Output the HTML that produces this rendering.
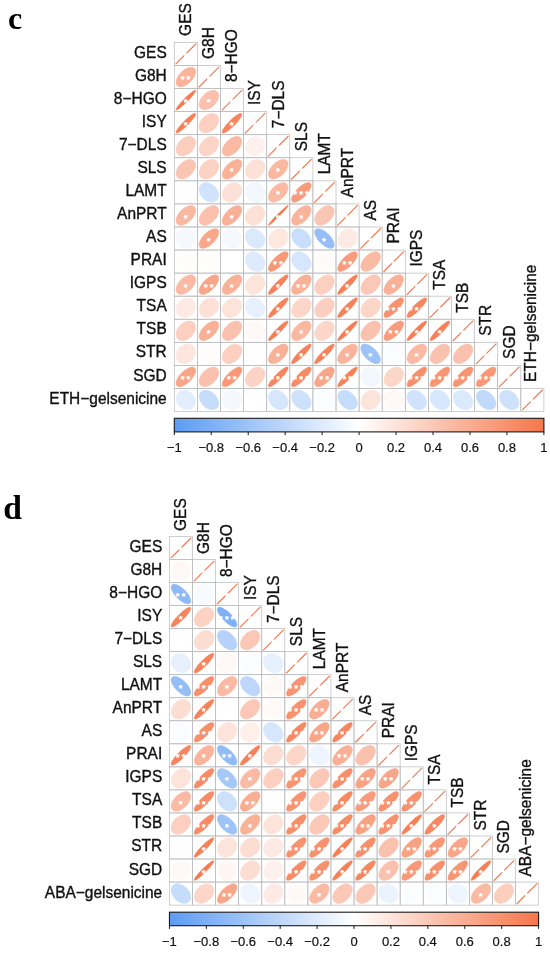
<!DOCTYPE html>
<html><head><meta charset="utf-8"><title>Correlation</title>
<style>
html,body{margin:0;padding:0;background:#fff;}
body{width:550px;height:953px;overflow:hidden;position:relative;font-family:"Liberation Sans",sans-serif;}
svg{position:absolute;left:0;top:0;display:block;}
.lb{font-family:"Liberation Sans",sans-serif;font-size:15.8px;fill:#111;stroke:#111;stroke-width:0.35px;}
.tk{font-family:"Liberation Sans",sans-serif;font-size:13px;fill:#111;stroke:#111;stroke-width:0.2px;}
.st{font-family:"Liberation Sans",sans-serif;font-weight:bold;font-size:9.6px;fill:#fff;stroke:#fff;stroke-width:0.25px;letter-spacing:2.15px;text-anchor:middle;}
.pl{font-family:"Liberation Serif",serif;font-weight:bold;font-size:32px;fill:#000;}
</style></head><body>
<svg width="550" height="953" viewBox="0 0 550 953">
<text class="pl" x="8" y="29">c</text>
<text class="pl" x="3.3" y="519" style="font-size:33.6px">d</text>
<line x1="175.63" y1="64.15" x2="196.07" y2="43.72" stroke="#f5764a" stroke-width="1.15"/>
<text class="st" x="186.60" y="59.04">***</text>
<ellipse cx="185.85" cy="77.00" rx="12.22" ry="6.59" fill="#fab49b" stroke="#fab49b" stroke-width="0.6" transform="rotate(-45 185.85 77.00)"/>
<text class="st" x="186.60" y="82.10">**</text>
<line x1="198.73" y1="87.22" x2="219.17" y2="66.79" stroke="#f5764a" stroke-width="1.15"/>
<text class="st" x="209.70" y="82.10">***</text>
<ellipse cx="185.85" cy="100.07" rx="13.74" ry="1.96" fill="#f57b51" stroke="#f57b51" stroke-width="0.6" transform="rotate(-45 185.85 100.07)"/>
<text class="st" x="186.60" y="105.17">*</text>
<ellipse cx="208.95" cy="100.07" rx="11.82" ry="7.28" fill="#fac1ae" stroke="#fac1ae" stroke-width="0.6" transform="rotate(-45 208.95 100.07)"/>
<text class="st" x="209.70" y="105.17">*</text>
<line x1="221.83" y1="110.29" x2="242.27" y2="89.86" stroke="#f5764a" stroke-width="1.15"/>
<text class="st" x="232.80" y="105.17">***</text>
<ellipse cx="185.85" cy="123.15" rx="13.66" ry="2.50" fill="#f67f56" stroke="#f67f56" stroke-width="0.6" transform="rotate(-45 185.85 123.15)"/>
<text class="st" x="186.60" y="128.25">*</text>
<ellipse cx="208.95" cy="123.15" rx="11.41" ry="7.92" fill="#fccfc0" stroke="#fccfc0" stroke-width="0.6" transform="rotate(-45 208.95 123.15)"/>
<ellipse cx="232.05" cy="123.15" rx="13.53" ry="3.10" fill="#f6845c" stroke="#f6845c" stroke-width="0.6" transform="rotate(-45 232.05 123.15)"/>
<text class="st" x="232.80" y="128.25">*</text>
<line x1="244.93" y1="133.36" x2="265.37" y2="112.93" stroke="#f5764a" stroke-width="1.15"/>
<text class="st" x="255.90" y="128.25">***</text>
<ellipse cx="185.85" cy="146.22" rx="11.45" ry="7.85" fill="#fbcebe" stroke="#fbcebe" stroke-width="0.6" transform="rotate(-45 185.85 146.22)"/>
<ellipse cx="208.95" cy="146.22" rx="11.24" ry="8.16" fill="#fcd5c7" stroke="#fcd5c7" stroke-width="0.6" transform="rotate(-45 208.95 146.22)"/>
<ellipse cx="232.05" cy="146.22" rx="12.02" ry="6.94" fill="#fabaa4" stroke="#fabaa4" stroke-width="0.6" transform="rotate(-45 232.05 146.22)"/>
<ellipse cx="255.15" cy="146.22" rx="10.30" ry="9.31" fill="#fef1ed" stroke="#fef1ed" stroke-width="0.6" transform="rotate(-45 255.15 146.22)"/>
<line x1="268.03" y1="156.43" x2="288.47" y2="136.00" stroke="#f5764a" stroke-width="1.15"/>
<text class="st" x="279.00" y="151.31">***</text>
<ellipse cx="185.85" cy="169.28" rx="11.70" ry="7.48" fill="#fbc5b3" stroke="#fbc5b3" stroke-width="0.6" transform="rotate(-45 185.85 169.28)"/>
<ellipse cx="208.95" cy="169.28" rx="11.32" ry="8.04" fill="#fcd2c3" stroke="#fcd2c3" stroke-width="0.6" transform="rotate(-45 208.95 169.28)"/>
<ellipse cx="232.05" cy="169.28" rx="12.30" ry="6.44" fill="#f9b198" stroke="#f9b198" stroke-width="0.6" transform="rotate(-45 232.05 169.28)"/>
<text class="st" x="232.80" y="174.38">*</text>
<ellipse cx="255.15" cy="169.28" rx="10.84" ry="8.67" fill="#fde1d7" stroke="#fde1d7" stroke-width="0.6" transform="rotate(-45 255.15 169.28)"/>
<ellipse cx="278.25" cy="169.28" rx="12.10" ry="6.80" fill="#fab8a1" stroke="#fab8a1" stroke-width="0.6" transform="rotate(-45 278.25 169.28)"/>
<text class="st" x="279.00" y="174.38">*</text>
<line x1="291.13" y1="179.50" x2="311.57" y2="159.07" stroke="#f5764a" stroke-width="1.15"/>
<text class="st" x="302.10" y="174.38">***</text>
<ellipse cx="208.95" cy="192.36" rx="8.33" ry="11.11" fill="#d1e3fc" stroke="#d1e3fc" stroke-width="0.6" transform="rotate(-45 208.95 192.36)"/>
<ellipse cx="232.05" cy="192.36" rx="10.84" ry="8.67" fill="#fde1d7" stroke="#fde1d7" stroke-width="0.6" transform="rotate(-45 232.05 192.36)"/>
<ellipse cx="255.15" cy="192.36" rx="9.42" ry="10.20" fill="#f2f7fe" stroke="#f2f7fe" stroke-width="0.6" transform="rotate(-45 255.15 192.36)"/>
<ellipse cx="278.25" cy="192.36" rx="12.02" ry="6.94" fill="#fabaa4" stroke="#fabaa4" stroke-width="0.6" transform="rotate(-45 278.25 192.36)"/>
<text class="st" x="279.00" y="197.46">*</text>
<ellipse cx="301.35" cy="192.36" rx="12.88" ry="5.19" fill="#f89c7d" stroke="#f89c7d" stroke-width="0.6" transform="rotate(-45 301.35 192.36)"/>
<text class="st" x="302.10" y="197.46">***</text>
<line x1="314.23" y1="202.57" x2="334.67" y2="182.14" stroke="#f5764a" stroke-width="1.15"/>
<text class="st" x="325.20" y="197.46">***</text>
<ellipse cx="185.85" cy="215.43" rx="12.10" ry="6.80" fill="#fab8a1" stroke="#fab8a1" stroke-width="0.6" transform="rotate(-45 185.85 215.43)"/>
<text class="st" x="186.60" y="220.53">*</text>
<ellipse cx="208.95" cy="215.43" rx="11.86" ry="7.21" fill="#fac0ac" stroke="#fac0ac" stroke-width="0.6" transform="rotate(-45 208.95 215.43)"/>
<ellipse cx="232.05" cy="215.43" rx="12.34" ry="6.36" fill="#f9b096" stroke="#f9b096" stroke-width="0.6" transform="rotate(-45 232.05 215.43)"/>
<text class="st" x="232.80" y="220.53">*</text>
<ellipse cx="255.15" cy="215.43" rx="10.84" ry="8.67" fill="#fde1d7" stroke="#fde1d7" stroke-width="0.6" transform="rotate(-45 255.15 215.43)"/>
<ellipse cx="278.25" cy="215.43" rx="13.83" ry="1.20" fill="#f5784d" stroke="#f5784d" stroke-width="0.6" transform="rotate(-45 278.25 215.43)"/>
<text class="st" x="279.00" y="220.53">*</text>
<ellipse cx="301.35" cy="215.43" rx="12.22" ry="6.59" fill="#fab49b" stroke="#fab49b" stroke-width="0.6" transform="rotate(-45 301.35 215.43)"/>
<text class="st" x="302.10" y="220.53">*</text>
<ellipse cx="324.45" cy="215.43" rx="11.70" ry="7.48" fill="#fbc5b3" stroke="#fbc5b3" stroke-width="0.6" transform="rotate(-45 324.45 215.43)"/>
<line x1="337.33" y1="225.64" x2="357.77" y2="205.21" stroke="#f5764a" stroke-width="1.15"/>
<text class="st" x="348.30" y="220.53">***</text>
<ellipse cx="185.85" cy="238.50" rx="9.52" ry="10.11" fill="#f5f9fe" stroke="#f5f9fe" stroke-width="0.6" transform="rotate(-45 185.85 238.50)"/>
<ellipse cx="208.95" cy="238.50" rx="12.57" ry="5.89" fill="#f9a78b" stroke="#f9a78b" stroke-width="0.6" transform="rotate(-45 208.95 238.50)"/>
<text class="st" x="209.70" y="243.59">*</text>
<ellipse cx="232.05" cy="238.50" rx="9.52" ry="10.11" fill="#f5f9fe" stroke="#f5f9fe" stroke-width="0.6" transform="rotate(-45 232.05 238.50)"/>
<ellipse cx="255.15" cy="238.50" rx="8.67" ry="10.84" fill="#dbe9fc" stroke="#dbe9fc" stroke-width="0.6" transform="rotate(-45 255.15 238.50)"/>
<ellipse cx="278.25" cy="238.50" rx="10.62" ry="8.94" fill="#fde8e0" stroke="#fde8e0" stroke-width="0.6" transform="rotate(-45 278.25 238.50)"/>
<ellipse cx="301.35" cy="238.50" rx="8.04" ry="11.32" fill="#c9defb" stroke="#c9defb" stroke-width="0.6" transform="rotate(-45 301.35 238.50)"/>
<ellipse cx="324.45" cy="238.50" rx="5.81" ry="12.61" fill="#95bef7" stroke="#95bef7" stroke-width="0.6" transform="rotate(-45 324.45 238.50)"/>
<text class="st" x="325.20" y="243.59">*</text>
<ellipse cx="347.55" cy="238.50" rx="10.53" ry="9.05" fill="#feeae4" stroke="#feeae4" stroke-width="0.6" transform="rotate(-45 347.55 238.50)"/>
<line x1="360.43" y1="248.71" x2="380.87" y2="228.28" stroke="#f5764a" stroke-width="1.15"/>
<text class="st" x="371.40" y="243.59">***</text>
<ellipse cx="185.85" cy="261.56" rx="9.87" ry="9.77" fill="#fffefd" stroke="#fffefd" stroke-width="0.6" transform="rotate(-45 185.85 261.56)"/>
<ellipse cx="208.95" cy="261.56" rx="9.87" ry="9.77" fill="#fffefd" stroke="#fffefd" stroke-width="0.6" transform="rotate(-45 208.95 261.56)"/>
<ellipse cx="255.15" cy="261.56" rx="8.78" ry="10.75" fill="#deebfd" stroke="#deebfd" stroke-width="0.6" transform="rotate(-45 255.15 261.56)"/>
<ellipse cx="278.25" cy="261.56" rx="12.99" ry="4.91" fill="#f89877" stroke="#f89877" stroke-width="0.6" transform="rotate(-45 278.25 261.56)"/>
<text class="st" x="279.00" y="266.67">**</text>
<ellipse cx="301.35" cy="261.56" rx="8.50" ry="10.98" fill="#d6e6fc" stroke="#d6e6fc" stroke-width="0.6" transform="rotate(-45 301.35 261.56)"/>
<ellipse cx="324.45" cy="261.56" rx="9.96" ry="9.67" fill="#fffbfa" stroke="#fffbfa" stroke-width="0.6" transform="rotate(-45 324.45 261.56)"/>
<ellipse cx="347.55" cy="261.56" rx="12.88" ry="5.19" fill="#f89c7d" stroke="#f89c7d" stroke-width="0.6" transform="rotate(-45 347.55 261.56)"/>
<text class="st" x="348.30" y="266.67">**</text>
<ellipse cx="370.65" cy="261.56" rx="12.02" ry="6.94" fill="#fabaa4" stroke="#fabaa4" stroke-width="0.6" transform="rotate(-45 370.65 261.56)"/>
<line x1="383.53" y1="271.78" x2="403.97" y2="251.35" stroke="#f5764a" stroke-width="1.15"/>
<text class="st" x="394.50" y="266.67">***</text>
<ellipse cx="185.85" cy="284.63" rx="12.02" ry="6.94" fill="#fabaa4" stroke="#fabaa4" stroke-width="0.6" transform="rotate(-45 185.85 284.63)"/>
<text class="st" x="186.60" y="289.74">*</text>
<ellipse cx="208.95" cy="284.63" rx="12.61" ry="5.81" fill="#f8a689" stroke="#f8a689" stroke-width="0.6" transform="rotate(-45 208.95 284.63)"/>
<text class="st" x="209.70" y="289.74">**</text>
<ellipse cx="232.05" cy="284.63" rx="12.30" ry="6.44" fill="#f9b198" stroke="#f9b198" stroke-width="0.6" transform="rotate(-45 232.05 284.63)"/>
<text class="st" x="232.80" y="289.74">*</text>
<ellipse cx="255.15" cy="284.63" rx="10.75" ry="8.78" fill="#fde4db" stroke="#fde4db" stroke-width="0.6" transform="rotate(-45 255.15 284.63)"/>
<ellipse cx="278.25" cy="284.63" rx="13.60" ry="2.78" fill="#f68158" stroke="#f68158" stroke-width="0.6" transform="rotate(-45 278.25 284.63)"/>
<text class="st" x="279.00" y="289.74">*</text>
<ellipse cx="301.35" cy="284.63" rx="12.30" ry="6.44" fill="#f9b198" stroke="#f9b198" stroke-width="0.6" transform="rotate(-45 301.35 284.63)"/>
<text class="st" x="302.10" y="289.74">**</text>
<ellipse cx="324.45" cy="284.63" rx="11.41" ry="7.92" fill="#fccfc0" stroke="#fccfc0" stroke-width="0.6" transform="rotate(-45 324.45 284.63)"/>
<ellipse cx="347.55" cy="284.63" rx="13.62" ry="2.69" fill="#f68058" stroke="#f68058" stroke-width="0.6" transform="rotate(-45 347.55 284.63)"/>
<text class="st" x="348.30" y="289.74">*</text>
<ellipse cx="370.65" cy="284.63" rx="11.62" ry="7.60" fill="#fbc8b7" stroke="#fbc8b7" stroke-width="0.6" transform="rotate(-45 370.65 284.63)"/>
<ellipse cx="393.75" cy="284.63" rx="12.30" ry="6.44" fill="#f9b198" stroke="#f9b198" stroke-width="0.6" transform="rotate(-45 393.75 284.63)"/>
<text class="st" x="394.50" y="289.74">*</text>
<line x1="406.63" y1="294.85" x2="427.07" y2="274.42" stroke="#f5764a" stroke-width="1.15"/>
<text class="st" x="417.60" y="289.74">***</text>
<ellipse cx="185.85" cy="307.71" rx="10.53" ry="9.05" fill="#feeae4" stroke="#feeae4" stroke-width="0.6" transform="rotate(-45 185.85 307.71)"/>
<ellipse cx="208.95" cy="307.71" rx="10.84" ry="8.67" fill="#fde1d7" stroke="#fde1d7" stroke-width="0.6" transform="rotate(-45 208.95 307.71)"/>
<ellipse cx="232.05" cy="307.71" rx="10.75" ry="8.78" fill="#fde4db" stroke="#fde4db" stroke-width="0.6" transform="rotate(-45 232.05 307.71)"/>
<ellipse cx="255.15" cy="307.71" rx="9.05" ry="10.53" fill="#e7f0fd" stroke="#e7f0fd" stroke-width="0.6" transform="rotate(-45 255.15 307.71)"/>
<ellipse cx="278.25" cy="307.71" rx="13.62" ry="2.69" fill="#f68058" stroke="#f68058" stroke-width="0.6" transform="rotate(-45 278.25 307.71)"/>
<text class="st" x="279.00" y="312.81">*</text>
<ellipse cx="301.35" cy="307.71" rx="11.19" ry="8.21" fill="#fcd6c9" stroke="#fcd6c9" stroke-width="0.6" transform="rotate(-45 301.35 307.71)"/>
<ellipse cx="324.45" cy="307.71" rx="11.41" ry="7.92" fill="#fccfc0" stroke="#fccfc0" stroke-width="0.6" transform="rotate(-45 324.45 307.71)"/>
<ellipse cx="347.55" cy="307.71" rx="13.59" ry="2.86" fill="#f68259" stroke="#f68259" stroke-width="0.6" transform="rotate(-45 347.55 307.71)"/>
<text class="st" x="348.30" y="312.81">*</text>
<ellipse cx="370.65" cy="307.71" rx="11.19" ry="8.21" fill="#fcd6c9" stroke="#fcd6c9" stroke-width="0.6" transform="rotate(-45 370.65 307.71)"/>
<ellipse cx="393.75" cy="307.71" rx="13.17" ry="4.39" fill="#f7916e" stroke="#f7916e" stroke-width="0.6" transform="rotate(-45 393.75 307.71)"/>
<text class="st" x="394.50" y="312.81">***</text>
<ellipse cx="416.85" cy="307.71" rx="13.46" ry="3.40" fill="#f68660" stroke="#f68660" stroke-width="0.6" transform="rotate(-45 416.85 307.71)"/>
<text class="st" x="417.60" y="312.81">***</text>
<line x1="429.73" y1="317.92" x2="450.17" y2="297.49" stroke="#f5764a" stroke-width="1.15"/>
<text class="st" x="440.70" y="312.81">***</text>
<ellipse cx="185.85" cy="330.78" rx="11.41" ry="7.92" fill="#fccfc0" stroke="#fccfc0" stroke-width="0.6" transform="rotate(-45 185.85 330.78)"/>
<ellipse cx="208.95" cy="330.78" rx="12.34" ry="6.36" fill="#f9b096" stroke="#f9b096" stroke-width="0.6" transform="rotate(-45 208.95 330.78)"/>
<text class="st" x="209.70" y="335.88">*</text>
<ellipse cx="232.05" cy="330.78" rx="11.82" ry="7.28" fill="#fac1ae" stroke="#fac1ae" stroke-width="0.6" transform="rotate(-45 232.05 330.78)"/>
<ellipse cx="255.15" cy="330.78" rx="10.06" ry="9.57" fill="#fef8f6" stroke="#fef8f6" stroke-width="0.6" transform="rotate(-45 255.15 330.78)"/>
<ellipse cx="278.25" cy="330.78" rx="13.69" ry="2.30" fill="#f67e54" stroke="#f67e54" stroke-width="0.6" transform="rotate(-45 278.25 330.78)"/>
<text class="st" x="279.00" y="335.88">*</text>
<ellipse cx="301.35" cy="330.78" rx="12.10" ry="6.80" fill="#fab8a1" stroke="#fab8a1" stroke-width="0.6" transform="rotate(-45 301.35 330.78)"/>
<text class="st" x="302.10" y="335.88">*</text>
<ellipse cx="324.45" cy="330.78" rx="11.19" ry="8.21" fill="#fcd6c9" stroke="#fcd6c9" stroke-width="0.6" transform="rotate(-45 324.45 330.78)"/>
<ellipse cx="347.55" cy="330.78" rx="13.69" ry="2.30" fill="#f67e54" stroke="#f67e54" stroke-width="0.6" transform="rotate(-45 347.55 330.78)"/>
<text class="st" x="348.30" y="335.88">*</text>
<ellipse cx="370.65" cy="330.78" rx="11.82" ry="7.28" fill="#fac1ae" stroke="#fac1ae" stroke-width="0.6" transform="rotate(-45 370.65 330.78)"/>
<ellipse cx="393.75" cy="330.78" rx="12.88" ry="5.19" fill="#f89c7d" stroke="#f89c7d" stroke-width="0.6" transform="rotate(-45 393.75 330.78)"/>
<text class="st" x="394.50" y="335.88">**</text>
<ellipse cx="416.85" cy="330.78" rx="13.69" ry="2.30" fill="#f67e54" stroke="#f67e54" stroke-width="0.6" transform="rotate(-45 416.85 330.78)"/>
<text class="st" x="417.60" y="335.88">*</text>
<ellipse cx="439.95" cy="330.78" rx="13.62" ry="2.69" fill="#f68058" stroke="#f68058" stroke-width="0.6" transform="rotate(-45 439.95 330.78)"/>
<text class="st" x="440.70" y="335.88">*</text>
<line x1="452.83" y1="340.99" x2="473.27" y2="320.56" stroke="#f5764a" stroke-width="1.15"/>
<text class="st" x="463.80" y="335.88">***</text>
<ellipse cx="185.85" cy="353.85" rx="10.66" ry="8.89" fill="#fde6de" stroke="#fde6de" stroke-width="0.6" transform="rotate(-45 185.85 353.85)"/>
<ellipse cx="208.95" cy="353.85" rx="9.92" ry="9.72" fill="#fffcfb" stroke="#fffcfb" stroke-width="0.6" transform="rotate(-45 208.95 353.85)"/>
<ellipse cx="232.05" cy="353.85" rx="11.41" ry="7.92" fill="#fccfc0" stroke="#fccfc0" stroke-width="0.6" transform="rotate(-45 232.05 353.85)"/>
<ellipse cx="278.25" cy="353.85" rx="12.30" ry="6.44" fill="#f9b198" stroke="#f9b198" stroke-width="0.6" transform="rotate(-45 278.25 353.85)"/>
<text class="st" x="279.00" y="358.95">*</text>
<ellipse cx="301.35" cy="353.85" rx="13.59" ry="2.86" fill="#f68259" stroke="#f68259" stroke-width="0.6" transform="rotate(-45 301.35 353.85)"/>
<text class="st" x="302.10" y="358.95">*</text>
<ellipse cx="324.45" cy="353.85" rx="13.59" ry="2.86" fill="#f68259" stroke="#f68259" stroke-width="0.6" transform="rotate(-45 324.45 353.85)"/>
<text class="st" x="325.20" y="358.95">*</text>
<ellipse cx="347.55" cy="353.85" rx="12.22" ry="6.59" fill="#fab49b" stroke="#fab49b" stroke-width="0.6" transform="rotate(-45 347.55 353.85)"/>
<text class="st" x="348.30" y="358.95">*</text>
<ellipse cx="370.65" cy="353.85" rx="6.21" ry="12.42" fill="#9dc3f8" stroke="#9dc3f8" stroke-width="0.6" transform="rotate(-45 370.65 353.85)"/>
<text class="st" x="371.40" y="358.95">*</text>
<ellipse cx="393.75" cy="353.85" rx="9.67" ry="9.96" fill="#fafcff" stroke="#fafcff" stroke-width="0.6" transform="rotate(-45 393.75 353.85)"/>
<ellipse cx="416.85" cy="353.85" rx="12.02" ry="6.94" fill="#fabaa4" stroke="#fabaa4" stroke-width="0.6" transform="rotate(-45 416.85 353.85)"/>
<text class="st" x="417.60" y="358.95">*</text>
<ellipse cx="439.95" cy="353.85" rx="11.82" ry="7.28" fill="#fac1ae" stroke="#fac1ae" stroke-width="0.6" transform="rotate(-45 439.95 353.85)"/>
<ellipse cx="463.05" cy="353.85" rx="11.82" ry="7.28" fill="#fac1ae" stroke="#fac1ae" stroke-width="0.6" transform="rotate(-45 463.05 353.85)"/>
<line x1="475.93" y1="364.06" x2="496.37" y2="343.63" stroke="#f5764a" stroke-width="1.15"/>
<text class="st" x="486.90" y="358.95">***</text>
<ellipse cx="185.85" cy="376.92" rx="12.61" ry="5.81" fill="#f8a689" stroke="#f8a689" stroke-width="0.6" transform="rotate(-45 185.85 376.92)"/>
<text class="st" x="186.60" y="382.02">**</text>
<ellipse cx="208.95" cy="376.92" rx="11.82" ry="7.28" fill="#fac1ae" stroke="#fac1ae" stroke-width="0.6" transform="rotate(-45 208.95 376.92)"/>
<ellipse cx="232.05" cy="376.92" rx="12.99" ry="4.91" fill="#f89877" stroke="#f89877" stroke-width="0.6" transform="rotate(-45 232.05 376.92)"/>
<text class="st" x="232.80" y="382.02">**</text>
<ellipse cx="255.15" cy="376.92" rx="11.28" ry="8.10" fill="#fcd3c5" stroke="#fcd3c5" stroke-width="0.6" transform="rotate(-45 255.15 376.92)"/>
<ellipse cx="278.25" cy="376.92" rx="13.53" ry="3.10" fill="#f6845c" stroke="#f6845c" stroke-width="0.6" transform="rotate(-45 278.25 376.92)"/>
<text class="st" x="279.00" y="382.02">***</text>
<ellipse cx="301.35" cy="376.92" rx="13.35" ry="3.80" fill="#f68b65" stroke="#f68b65" stroke-width="0.6" transform="rotate(-45 301.35 376.92)"/>
<text class="st" x="302.10" y="382.02">***</text>
<ellipse cx="324.45" cy="376.92" rx="12.61" ry="5.81" fill="#f8a689" stroke="#f8a689" stroke-width="0.6" transform="rotate(-45 324.45 376.92)"/>
<text class="st" x="325.20" y="382.02">**</text>
<ellipse cx="347.55" cy="376.92" rx="13.60" ry="2.78" fill="#f68158" stroke="#f68158" stroke-width="0.6" transform="rotate(-45 347.55 376.92)"/>
<text class="st" x="348.30" y="382.02">**</text>
<ellipse cx="370.65" cy="376.92" rx="9.42" ry="10.20" fill="#f2f7fe" stroke="#f2f7fe" stroke-width="0.6" transform="rotate(-45 370.65 376.92)"/>
<ellipse cx="393.75" cy="376.92" rx="11.19" ry="8.21" fill="#fcd6c9" stroke="#fcd6c9" stroke-width="0.6" transform="rotate(-45 393.75 376.92)"/>
<ellipse cx="416.85" cy="376.92" rx="13.24" ry="4.17" fill="#f78f6b" stroke="#f78f6b" stroke-width="0.6" transform="rotate(-45 416.85 376.92)"/>
<text class="st" x="417.60" y="382.02">***</text>
<ellipse cx="439.95" cy="376.92" rx="13.10" ry="4.60" fill="#f79472" stroke="#f79472" stroke-width="0.6" transform="rotate(-45 439.95 376.92)"/>
<text class="st" x="440.70" y="382.02">***</text>
<ellipse cx="463.05" cy="376.92" rx="13.10" ry="4.60" fill="#f79472" stroke="#f79472" stroke-width="0.6" transform="rotate(-45 463.05 376.92)"/>
<text class="st" x="463.80" y="382.02">***</text>
<ellipse cx="486.15" cy="376.92" rx="12.99" ry="4.91" fill="#f89877" stroke="#f89877" stroke-width="0.6" transform="rotate(-45 486.15 376.92)"/>
<text class="st" x="486.90" y="382.02">***</text>
<line x1="499.03" y1="387.13" x2="519.47" y2="366.70" stroke="#f5764a" stroke-width="1.15"/>
<text class="st" x="510.00" y="382.02">***</text>
<ellipse cx="185.85" cy="399.99" rx="8.89" ry="10.66" fill="#e2edfd" stroke="#e2edfd" stroke-width="0.6" transform="rotate(-45 185.85 399.99)"/>
<ellipse cx="208.95" cy="399.99" rx="7.92" ry="11.41" fill="#c6dcfb" stroke="#c6dcfb" stroke-width="0.6" transform="rotate(-45 208.95 399.99)"/>
<ellipse cx="232.05" cy="399.99" rx="9.47" ry="10.16" fill="#f4f8fe" stroke="#f4f8fe" stroke-width="0.6" transform="rotate(-45 232.05 399.99)"/>
<ellipse cx="278.25" cy="399.99" rx="8.50" ry="10.98" fill="#d6e6fc" stroke="#d6e6fc" stroke-width="0.6" transform="rotate(-45 278.25 399.99)"/>
<ellipse cx="301.35" cy="399.99" rx="8.21" ry="11.19" fill="#cee1fb" stroke="#cee1fb" stroke-width="0.6" transform="rotate(-45 301.35 399.99)"/>
<ellipse cx="324.45" cy="399.99" rx="9.67" ry="9.96" fill="#fafcff" stroke="#fafcff" stroke-width="0.6" transform="rotate(-45 324.45 399.99)"/>
<ellipse cx="347.55" cy="399.99" rx="7.92" ry="11.41" fill="#c6dcfb" stroke="#c6dcfb" stroke-width="0.6" transform="rotate(-45 347.55 399.99)"/>
<ellipse cx="370.65" cy="399.99" rx="10.75" ry="8.78" fill="#fde4db" stroke="#fde4db" stroke-width="0.6" transform="rotate(-45 370.65 399.99)"/>
<ellipse cx="393.75" cy="399.99" rx="10.06" ry="9.57" fill="#fef8f6" stroke="#fef8f6" stroke-width="0.6" transform="rotate(-45 393.75 399.99)"/>
<ellipse cx="416.85" cy="399.99" rx="8.33" ry="11.11" fill="#d1e3fc" stroke="#d1e3fc" stroke-width="0.6" transform="rotate(-45 416.85 399.99)"/>
<ellipse cx="439.95" cy="399.99" rx="8.50" ry="10.98" fill="#d6e6fc" stroke="#d6e6fc" stroke-width="0.6" transform="rotate(-45 439.95 399.99)"/>
<ellipse cx="463.05" cy="399.99" rx="8.67" ry="10.84" fill="#dbe9fc" stroke="#dbe9fc" stroke-width="0.6" transform="rotate(-45 463.05 399.99)"/>
<ellipse cx="486.15" cy="399.99" rx="7.73" ry="11.53" fill="#c1d9fa" stroke="#c1d9fa" stroke-width="0.6" transform="rotate(-45 486.15 399.99)"/>
<ellipse cx="509.25" cy="399.99" rx="8.21" ry="11.19" fill="#cee1fb" stroke="#cee1fb" stroke-width="0.6" transform="rotate(-45 509.25 399.99)"/>
<line x1="522.13" y1="410.20" x2="542.57" y2="389.77" stroke="#f5764a" stroke-width="1.15"/>
<text class="st" x="533.10" y="405.09">***</text>
<rect x="174.30" y="42.40" width="23.10" height="23.07" fill="none" stroke="#b8bbbe" stroke-width="0.7"/>
<rect x="174.30" y="65.47" width="23.10" height="23.07" fill="none" stroke="#b8bbbe" stroke-width="0.7"/>
<rect x="197.40" y="65.47" width="23.10" height="23.07" fill="none" stroke="#b8bbbe" stroke-width="0.7"/>
<rect x="174.30" y="88.54" width="23.10" height="23.07" fill="none" stroke="#b8bbbe" stroke-width="0.7"/>
<rect x="197.40" y="88.54" width="23.10" height="23.07" fill="none" stroke="#b8bbbe" stroke-width="0.7"/>
<rect x="220.50" y="88.54" width="23.10" height="23.07" fill="none" stroke="#b8bbbe" stroke-width="0.7"/>
<rect x="174.30" y="111.61" width="23.10" height="23.07" fill="none" stroke="#b8bbbe" stroke-width="0.7"/>
<rect x="197.40" y="111.61" width="23.10" height="23.07" fill="none" stroke="#b8bbbe" stroke-width="0.7"/>
<rect x="220.50" y="111.61" width="23.10" height="23.07" fill="none" stroke="#b8bbbe" stroke-width="0.7"/>
<rect x="243.60" y="111.61" width="23.10" height="23.07" fill="none" stroke="#b8bbbe" stroke-width="0.7"/>
<rect x="174.30" y="134.68" width="23.10" height="23.07" fill="none" stroke="#b8bbbe" stroke-width="0.7"/>
<rect x="197.40" y="134.68" width="23.10" height="23.07" fill="none" stroke="#b8bbbe" stroke-width="0.7"/>
<rect x="220.50" y="134.68" width="23.10" height="23.07" fill="none" stroke="#b8bbbe" stroke-width="0.7"/>
<rect x="243.60" y="134.68" width="23.10" height="23.07" fill="none" stroke="#b8bbbe" stroke-width="0.7"/>
<rect x="266.70" y="134.68" width="23.10" height="23.07" fill="none" stroke="#b8bbbe" stroke-width="0.7"/>
<rect x="174.30" y="157.75" width="23.10" height="23.07" fill="none" stroke="#b8bbbe" stroke-width="0.7"/>
<rect x="197.40" y="157.75" width="23.10" height="23.07" fill="none" stroke="#b8bbbe" stroke-width="0.7"/>
<rect x="220.50" y="157.75" width="23.10" height="23.07" fill="none" stroke="#b8bbbe" stroke-width="0.7"/>
<rect x="243.60" y="157.75" width="23.10" height="23.07" fill="none" stroke="#b8bbbe" stroke-width="0.7"/>
<rect x="266.70" y="157.75" width="23.10" height="23.07" fill="none" stroke="#b8bbbe" stroke-width="0.7"/>
<rect x="289.80" y="157.75" width="23.10" height="23.07" fill="none" stroke="#b8bbbe" stroke-width="0.7"/>
<rect x="174.30" y="180.82" width="23.10" height="23.07" fill="none" stroke="#b8bbbe" stroke-width="0.7"/>
<rect x="197.40" y="180.82" width="23.10" height="23.07" fill="none" stroke="#b8bbbe" stroke-width="0.7"/>
<rect x="220.50" y="180.82" width="23.10" height="23.07" fill="none" stroke="#b8bbbe" stroke-width="0.7"/>
<rect x="243.60" y="180.82" width="23.10" height="23.07" fill="none" stroke="#b8bbbe" stroke-width="0.7"/>
<rect x="266.70" y="180.82" width="23.10" height="23.07" fill="none" stroke="#b8bbbe" stroke-width="0.7"/>
<rect x="289.80" y="180.82" width="23.10" height="23.07" fill="none" stroke="#b8bbbe" stroke-width="0.7"/>
<rect x="312.90" y="180.82" width="23.10" height="23.07" fill="none" stroke="#b8bbbe" stroke-width="0.7"/>
<rect x="174.30" y="203.89" width="23.10" height="23.07" fill="none" stroke="#b8bbbe" stroke-width="0.7"/>
<rect x="197.40" y="203.89" width="23.10" height="23.07" fill="none" stroke="#b8bbbe" stroke-width="0.7"/>
<rect x="220.50" y="203.89" width="23.10" height="23.07" fill="none" stroke="#b8bbbe" stroke-width="0.7"/>
<rect x="243.60" y="203.89" width="23.10" height="23.07" fill="none" stroke="#b8bbbe" stroke-width="0.7"/>
<rect x="266.70" y="203.89" width="23.10" height="23.07" fill="none" stroke="#b8bbbe" stroke-width="0.7"/>
<rect x="289.80" y="203.89" width="23.10" height="23.07" fill="none" stroke="#b8bbbe" stroke-width="0.7"/>
<rect x="312.90" y="203.89" width="23.10" height="23.07" fill="none" stroke="#b8bbbe" stroke-width="0.7"/>
<rect x="336.00" y="203.89" width="23.10" height="23.07" fill="none" stroke="#b8bbbe" stroke-width="0.7"/>
<rect x="174.30" y="226.96" width="23.10" height="23.07" fill="none" stroke="#b8bbbe" stroke-width="0.7"/>
<rect x="197.40" y="226.96" width="23.10" height="23.07" fill="none" stroke="#b8bbbe" stroke-width="0.7"/>
<rect x="220.50" y="226.96" width="23.10" height="23.07" fill="none" stroke="#b8bbbe" stroke-width="0.7"/>
<rect x="243.60" y="226.96" width="23.10" height="23.07" fill="none" stroke="#b8bbbe" stroke-width="0.7"/>
<rect x="266.70" y="226.96" width="23.10" height="23.07" fill="none" stroke="#b8bbbe" stroke-width="0.7"/>
<rect x="289.80" y="226.96" width="23.10" height="23.07" fill="none" stroke="#b8bbbe" stroke-width="0.7"/>
<rect x="312.90" y="226.96" width="23.10" height="23.07" fill="none" stroke="#b8bbbe" stroke-width="0.7"/>
<rect x="336.00" y="226.96" width="23.10" height="23.07" fill="none" stroke="#b8bbbe" stroke-width="0.7"/>
<rect x="359.10" y="226.96" width="23.10" height="23.07" fill="none" stroke="#b8bbbe" stroke-width="0.7"/>
<rect x="174.30" y="250.03" width="23.10" height="23.07" fill="none" stroke="#b8bbbe" stroke-width="0.7"/>
<rect x="197.40" y="250.03" width="23.10" height="23.07" fill="none" stroke="#b8bbbe" stroke-width="0.7"/>
<rect x="220.50" y="250.03" width="23.10" height="23.07" fill="none" stroke="#b8bbbe" stroke-width="0.7"/>
<rect x="243.60" y="250.03" width="23.10" height="23.07" fill="none" stroke="#b8bbbe" stroke-width="0.7"/>
<rect x="266.70" y="250.03" width="23.10" height="23.07" fill="none" stroke="#b8bbbe" stroke-width="0.7"/>
<rect x="289.80" y="250.03" width="23.10" height="23.07" fill="none" stroke="#b8bbbe" stroke-width="0.7"/>
<rect x="312.90" y="250.03" width="23.10" height="23.07" fill="none" stroke="#b8bbbe" stroke-width="0.7"/>
<rect x="336.00" y="250.03" width="23.10" height="23.07" fill="none" stroke="#b8bbbe" stroke-width="0.7"/>
<rect x="359.10" y="250.03" width="23.10" height="23.07" fill="none" stroke="#b8bbbe" stroke-width="0.7"/>
<rect x="382.20" y="250.03" width="23.10" height="23.07" fill="none" stroke="#b8bbbe" stroke-width="0.7"/>
<rect x="174.30" y="273.10" width="23.10" height="23.07" fill="none" stroke="#b8bbbe" stroke-width="0.7"/>
<rect x="197.40" y="273.10" width="23.10" height="23.07" fill="none" stroke="#b8bbbe" stroke-width="0.7"/>
<rect x="220.50" y="273.10" width="23.10" height="23.07" fill="none" stroke="#b8bbbe" stroke-width="0.7"/>
<rect x="243.60" y="273.10" width="23.10" height="23.07" fill="none" stroke="#b8bbbe" stroke-width="0.7"/>
<rect x="266.70" y="273.10" width="23.10" height="23.07" fill="none" stroke="#b8bbbe" stroke-width="0.7"/>
<rect x="289.80" y="273.10" width="23.10" height="23.07" fill="none" stroke="#b8bbbe" stroke-width="0.7"/>
<rect x="312.90" y="273.10" width="23.10" height="23.07" fill="none" stroke="#b8bbbe" stroke-width="0.7"/>
<rect x="336.00" y="273.10" width="23.10" height="23.07" fill="none" stroke="#b8bbbe" stroke-width="0.7"/>
<rect x="359.10" y="273.10" width="23.10" height="23.07" fill="none" stroke="#b8bbbe" stroke-width="0.7"/>
<rect x="382.20" y="273.10" width="23.10" height="23.07" fill="none" stroke="#b8bbbe" stroke-width="0.7"/>
<rect x="405.30" y="273.10" width="23.10" height="23.07" fill="none" stroke="#b8bbbe" stroke-width="0.7"/>
<rect x="174.30" y="296.17" width="23.10" height="23.07" fill="none" stroke="#b8bbbe" stroke-width="0.7"/>
<rect x="197.40" y="296.17" width="23.10" height="23.07" fill="none" stroke="#b8bbbe" stroke-width="0.7"/>
<rect x="220.50" y="296.17" width="23.10" height="23.07" fill="none" stroke="#b8bbbe" stroke-width="0.7"/>
<rect x="243.60" y="296.17" width="23.10" height="23.07" fill="none" stroke="#b8bbbe" stroke-width="0.7"/>
<rect x="266.70" y="296.17" width="23.10" height="23.07" fill="none" stroke="#b8bbbe" stroke-width="0.7"/>
<rect x="289.80" y="296.17" width="23.10" height="23.07" fill="none" stroke="#b8bbbe" stroke-width="0.7"/>
<rect x="312.90" y="296.17" width="23.10" height="23.07" fill="none" stroke="#b8bbbe" stroke-width="0.7"/>
<rect x="336.00" y="296.17" width="23.10" height="23.07" fill="none" stroke="#b8bbbe" stroke-width="0.7"/>
<rect x="359.10" y="296.17" width="23.10" height="23.07" fill="none" stroke="#b8bbbe" stroke-width="0.7"/>
<rect x="382.20" y="296.17" width="23.10" height="23.07" fill="none" stroke="#b8bbbe" stroke-width="0.7"/>
<rect x="405.30" y="296.17" width="23.10" height="23.07" fill="none" stroke="#b8bbbe" stroke-width="0.7"/>
<rect x="428.40" y="296.17" width="23.10" height="23.07" fill="none" stroke="#b8bbbe" stroke-width="0.7"/>
<rect x="174.30" y="319.24" width="23.10" height="23.07" fill="none" stroke="#b8bbbe" stroke-width="0.7"/>
<rect x="197.40" y="319.24" width="23.10" height="23.07" fill="none" stroke="#b8bbbe" stroke-width="0.7"/>
<rect x="220.50" y="319.24" width="23.10" height="23.07" fill="none" stroke="#b8bbbe" stroke-width="0.7"/>
<rect x="243.60" y="319.24" width="23.10" height="23.07" fill="none" stroke="#b8bbbe" stroke-width="0.7"/>
<rect x="266.70" y="319.24" width="23.10" height="23.07" fill="none" stroke="#b8bbbe" stroke-width="0.7"/>
<rect x="289.80" y="319.24" width="23.10" height="23.07" fill="none" stroke="#b8bbbe" stroke-width="0.7"/>
<rect x="312.90" y="319.24" width="23.10" height="23.07" fill="none" stroke="#b8bbbe" stroke-width="0.7"/>
<rect x="336.00" y="319.24" width="23.10" height="23.07" fill="none" stroke="#b8bbbe" stroke-width="0.7"/>
<rect x="359.10" y="319.24" width="23.10" height="23.07" fill="none" stroke="#b8bbbe" stroke-width="0.7"/>
<rect x="382.20" y="319.24" width="23.10" height="23.07" fill="none" stroke="#b8bbbe" stroke-width="0.7"/>
<rect x="405.30" y="319.24" width="23.10" height="23.07" fill="none" stroke="#b8bbbe" stroke-width="0.7"/>
<rect x="428.40" y="319.24" width="23.10" height="23.07" fill="none" stroke="#b8bbbe" stroke-width="0.7"/>
<rect x="451.50" y="319.24" width="23.10" height="23.07" fill="none" stroke="#b8bbbe" stroke-width="0.7"/>
<rect x="174.30" y="342.31" width="23.10" height="23.07" fill="none" stroke="#b8bbbe" stroke-width="0.7"/>
<rect x="197.40" y="342.31" width="23.10" height="23.07" fill="none" stroke="#b8bbbe" stroke-width="0.7"/>
<rect x="220.50" y="342.31" width="23.10" height="23.07" fill="none" stroke="#b8bbbe" stroke-width="0.7"/>
<rect x="243.60" y="342.31" width="23.10" height="23.07" fill="none" stroke="#b8bbbe" stroke-width="0.7"/>
<rect x="266.70" y="342.31" width="23.10" height="23.07" fill="none" stroke="#b8bbbe" stroke-width="0.7"/>
<rect x="289.80" y="342.31" width="23.10" height="23.07" fill="none" stroke="#b8bbbe" stroke-width="0.7"/>
<rect x="312.90" y="342.31" width="23.10" height="23.07" fill="none" stroke="#b8bbbe" stroke-width="0.7"/>
<rect x="336.00" y="342.31" width="23.10" height="23.07" fill="none" stroke="#b8bbbe" stroke-width="0.7"/>
<rect x="359.10" y="342.31" width="23.10" height="23.07" fill="none" stroke="#b8bbbe" stroke-width="0.7"/>
<rect x="382.20" y="342.31" width="23.10" height="23.07" fill="none" stroke="#b8bbbe" stroke-width="0.7"/>
<rect x="405.30" y="342.31" width="23.10" height="23.07" fill="none" stroke="#b8bbbe" stroke-width="0.7"/>
<rect x="428.40" y="342.31" width="23.10" height="23.07" fill="none" stroke="#b8bbbe" stroke-width="0.7"/>
<rect x="451.50" y="342.31" width="23.10" height="23.07" fill="none" stroke="#b8bbbe" stroke-width="0.7"/>
<rect x="474.60" y="342.31" width="23.10" height="23.07" fill="none" stroke="#b8bbbe" stroke-width="0.7"/>
<rect x="174.30" y="365.38" width="23.10" height="23.07" fill="none" stroke="#b8bbbe" stroke-width="0.7"/>
<rect x="197.40" y="365.38" width="23.10" height="23.07" fill="none" stroke="#b8bbbe" stroke-width="0.7"/>
<rect x="220.50" y="365.38" width="23.10" height="23.07" fill="none" stroke="#b8bbbe" stroke-width="0.7"/>
<rect x="243.60" y="365.38" width="23.10" height="23.07" fill="none" stroke="#b8bbbe" stroke-width="0.7"/>
<rect x="266.70" y="365.38" width="23.10" height="23.07" fill="none" stroke="#b8bbbe" stroke-width="0.7"/>
<rect x="289.80" y="365.38" width="23.10" height="23.07" fill="none" stroke="#b8bbbe" stroke-width="0.7"/>
<rect x="312.90" y="365.38" width="23.10" height="23.07" fill="none" stroke="#b8bbbe" stroke-width="0.7"/>
<rect x="336.00" y="365.38" width="23.10" height="23.07" fill="none" stroke="#b8bbbe" stroke-width="0.7"/>
<rect x="359.10" y="365.38" width="23.10" height="23.07" fill="none" stroke="#b8bbbe" stroke-width="0.7"/>
<rect x="382.20" y="365.38" width="23.10" height="23.07" fill="none" stroke="#b8bbbe" stroke-width="0.7"/>
<rect x="405.30" y="365.38" width="23.10" height="23.07" fill="none" stroke="#b8bbbe" stroke-width="0.7"/>
<rect x="428.40" y="365.38" width="23.10" height="23.07" fill="none" stroke="#b8bbbe" stroke-width="0.7"/>
<rect x="451.50" y="365.38" width="23.10" height="23.07" fill="none" stroke="#b8bbbe" stroke-width="0.7"/>
<rect x="474.60" y="365.38" width="23.10" height="23.07" fill="none" stroke="#b8bbbe" stroke-width="0.7"/>
<rect x="497.70" y="365.38" width="23.10" height="23.07" fill="none" stroke="#b8bbbe" stroke-width="0.7"/>
<rect x="174.30" y="388.45" width="23.10" height="23.07" fill="none" stroke="#b8bbbe" stroke-width="0.7"/>
<rect x="197.40" y="388.45" width="23.10" height="23.07" fill="none" stroke="#b8bbbe" stroke-width="0.7"/>
<rect x="220.50" y="388.45" width="23.10" height="23.07" fill="none" stroke="#b8bbbe" stroke-width="0.7"/>
<rect x="243.60" y="388.45" width="23.10" height="23.07" fill="none" stroke="#b8bbbe" stroke-width="0.7"/>
<rect x="266.70" y="388.45" width="23.10" height="23.07" fill="none" stroke="#b8bbbe" stroke-width="0.7"/>
<rect x="289.80" y="388.45" width="23.10" height="23.07" fill="none" stroke="#b8bbbe" stroke-width="0.7"/>
<rect x="312.90" y="388.45" width="23.10" height="23.07" fill="none" stroke="#b8bbbe" stroke-width="0.7"/>
<rect x="336.00" y="388.45" width="23.10" height="23.07" fill="none" stroke="#b8bbbe" stroke-width="0.7"/>
<rect x="359.10" y="388.45" width="23.10" height="23.07" fill="none" stroke="#b8bbbe" stroke-width="0.7"/>
<rect x="382.20" y="388.45" width="23.10" height="23.07" fill="none" stroke="#b8bbbe" stroke-width="0.7"/>
<rect x="405.30" y="388.45" width="23.10" height="23.07" fill="none" stroke="#b8bbbe" stroke-width="0.7"/>
<rect x="428.40" y="388.45" width="23.10" height="23.07" fill="none" stroke="#b8bbbe" stroke-width="0.7"/>
<rect x="451.50" y="388.45" width="23.10" height="23.07" fill="none" stroke="#b8bbbe" stroke-width="0.7"/>
<rect x="474.60" y="388.45" width="23.10" height="23.07" fill="none" stroke="#b8bbbe" stroke-width="0.7"/>
<rect x="497.70" y="388.45" width="23.10" height="23.07" fill="none" stroke="#b8bbbe" stroke-width="0.7"/>
<rect x="520.80" y="388.45" width="23.10" height="23.07" fill="none" stroke="#b8bbbe" stroke-width="0.7"/>
<text class="lb" text-anchor="end" transform="translate(166.70 57.54) scale(0.98 1)">GES</text>
<text class="lb" transform="translate(191.15 35.90) rotate(-90) scale(0.98 1)">GES</text>
<text class="lb" text-anchor="end" transform="translate(166.70 80.60) scale(0.98 1)">G8H</text>
<text class="lb" transform="translate(214.25 58.97) rotate(-90) scale(0.98 1)">G8H</text>
<text class="lb" text-anchor="end" transform="translate(166.70 103.67) scale(0.98 1)">8−HGO</text>
<text class="lb" transform="translate(237.35 82.04) rotate(-90) scale(0.98 1)">8−HGO</text>
<text class="lb" text-anchor="end" transform="translate(166.70 126.75) scale(0.98 1)">ISY</text>
<text class="lb" transform="translate(260.45 105.11) rotate(-90) scale(0.98 1)">ISY</text>
<text class="lb" text-anchor="end" transform="translate(166.70 149.81) scale(0.98 1)">7−DLS</text>
<text class="lb" transform="translate(283.55 128.18) rotate(-90) scale(0.98 1)">7−DLS</text>
<text class="lb" text-anchor="end" transform="translate(166.70 172.88) scale(0.98 1)">SLS</text>
<text class="lb" transform="translate(306.65 151.25) rotate(-90) scale(0.98 1)">SLS</text>
<text class="lb" text-anchor="end" transform="translate(166.70 195.96) scale(0.98 1)">LAMT</text>
<text class="lb" transform="translate(329.75 174.32) rotate(-90) scale(0.98 1)">LAMT</text>
<text class="lb" text-anchor="end" transform="translate(166.70 219.03) scale(0.98 1)">AnPRT</text>
<text class="lb" transform="translate(352.85 197.39) rotate(-90) scale(0.98 1)">AnPRT</text>
<text class="lb" text-anchor="end" transform="translate(166.70 242.09) scale(0.98 1)">AS</text>
<text class="lb" transform="translate(375.95 220.46) rotate(-90) scale(0.98 1)">AS</text>
<text class="lb" text-anchor="end" transform="translate(166.70 265.17) scale(0.98 1)">PRAI</text>
<text class="lb" transform="translate(399.05 243.53) rotate(-90) scale(0.98 1)">PRAI</text>
<text class="lb" text-anchor="end" transform="translate(166.70 288.24) scale(0.98 1)">IGPS</text>
<text class="lb" transform="translate(422.15 266.60) rotate(-90) scale(0.98 1)">IGPS</text>
<text class="lb" text-anchor="end" transform="translate(166.70 311.31) scale(0.98 1)">TSA</text>
<text class="lb" transform="translate(445.25 289.67) rotate(-90) scale(0.98 1)">TSA</text>
<text class="lb" text-anchor="end" transform="translate(166.70 334.38) scale(0.98 1)">TSB</text>
<text class="lb" transform="translate(468.35 312.74) rotate(-90) scale(0.98 1)">TSB</text>
<text class="lb" text-anchor="end" transform="translate(166.70 357.45) scale(0.98 1)">STR</text>
<text class="lb" transform="translate(491.45 335.81) rotate(-90) scale(0.98 1)">STR</text>
<text class="lb" text-anchor="end" transform="translate(166.70 380.52) scale(0.98 1)">SGD</text>
<text class="lb" transform="translate(514.55 358.88) rotate(-90) scale(0.98 1)">SGD</text>
<text class="lb" text-anchor="end" transform="translate(166.70 403.59) scale(0.98 1)">ETH−gelsenicine</text>
<text class="lb" transform="translate(535.85 381.95) rotate(-90) scale(0.98 1)">ETH−gelsenicine</text>
<defs><linearGradient id="g42" x1="0" x2="1" y1="0" y2="0"><stop offset="0" stop-color="#5c9bf3"/><stop offset="0.5" stop-color="#ffffff"/><stop offset="1" stop-color="#f5764a"/></linearGradient></defs>
<rect x="174.30" y="418.30" width="369.60" height="13.60" fill="url(#g42)" stroke="#1a1a1a" stroke-width="1.1"/>
<line x1="174.30" y1="431.90" x2="174.30" y2="435.10" stroke="#1a1a1a" stroke-width="1"/>
<text class="tk" text-anchor="middle" x="174.30" y="451.70">−1</text>
<line x1="211.26" y1="431.90" x2="211.26" y2="435.10" stroke="#1a1a1a" stroke-width="1"/>
<text class="tk" text-anchor="middle" x="211.26" y="451.70">−0.8</text>
<line x1="248.22" y1="431.90" x2="248.22" y2="435.10" stroke="#1a1a1a" stroke-width="1"/>
<text class="tk" text-anchor="middle" x="248.22" y="451.70">−0.6</text>
<line x1="285.18" y1="431.90" x2="285.18" y2="435.10" stroke="#1a1a1a" stroke-width="1"/>
<text class="tk" text-anchor="middle" x="285.18" y="451.70">−0.4</text>
<line x1="322.14" y1="431.90" x2="322.14" y2="435.10" stroke="#1a1a1a" stroke-width="1"/>
<text class="tk" text-anchor="middle" x="322.14" y="451.70">−0.2</text>
<line x1="359.10" y1="431.90" x2="359.10" y2="435.10" stroke="#1a1a1a" stroke-width="1"/>
<text class="tk" text-anchor="middle" x="359.10" y="451.70">0</text>
<line x1="396.06" y1="431.90" x2="396.06" y2="435.10" stroke="#1a1a1a" stroke-width="1"/>
<text class="tk" text-anchor="middle" x="396.06" y="451.70">0.2</text>
<line x1="433.02" y1="431.90" x2="433.02" y2="435.10" stroke="#1a1a1a" stroke-width="1"/>
<text class="tk" text-anchor="middle" x="433.02" y="451.70">0.4</text>
<line x1="469.98" y1="431.90" x2="469.98" y2="435.10" stroke="#1a1a1a" stroke-width="1"/>
<text class="tk" text-anchor="middle" x="469.98" y="451.70">0.6</text>
<line x1="506.94" y1="431.90" x2="506.94" y2="435.10" stroke="#1a1a1a" stroke-width="1"/>
<text class="tk" text-anchor="middle" x="506.94" y="451.70">0.8</text>
<line x1="543.90" y1="431.90" x2="543.90" y2="435.10" stroke="#1a1a1a" stroke-width="1"/>
<text class="tk" text-anchor="middle" x="543.90" y="451.70">1</text>
<line x1="170.78" y1="558.17" x2="191.19" y2="537.77" stroke="#f5764a" stroke-width="1.15"/>
<text class="st" x="181.73" y="553.07">***</text>
<ellipse cx="180.98" cy="571.01" rx="10.05" ry="9.56" fill="#fef8f6" stroke="#fef8f6" stroke-width="0.6" transform="rotate(-45 180.98 571.01)"/>
<line x1="193.85" y1="581.21" x2="214.26" y2="560.81" stroke="#f5764a" stroke-width="1.15"/>
<text class="st" x="204.80" y="576.11">***</text>
<ellipse cx="180.98" cy="594.05" rx="5.37" ry="12.78" fill="#8db9f7" stroke="#8db9f7" stroke-width="0.6" transform="rotate(-45 180.98 594.05)"/>
<text class="st" x="181.73" y="599.15">**</text>
<ellipse cx="204.05" cy="594.05" rx="9.56" ry="10.05" fill="#f7fafe" stroke="#f7fafe" stroke-width="0.6" transform="rotate(-45 204.05 594.05)"/>
<line x1="216.92" y1="604.25" x2="237.33" y2="583.85" stroke="#f5764a" stroke-width="1.15"/>
<text class="st" x="227.87" y="599.15">***</text>
<ellipse cx="180.98" cy="617.09" rx="13.51" ry="3.10" fill="#f6845c" stroke="#f6845c" stroke-width="0.6" transform="rotate(-45 180.98 617.09)"/>
<text class="st" x="181.73" y="622.19">*</text>
<ellipse cx="204.05" cy="617.09" rx="11.31" ry="8.03" fill="#fcd2c3" stroke="#fcd2c3" stroke-width="0.6" transform="rotate(-45 204.05 617.09)"/>
<ellipse cx="227.12" cy="617.09" rx="4.60" ry="13.08" fill="#80b1f6" stroke="#80b1f6" stroke-width="0.6" transform="rotate(-45 227.12 617.09)"/>
<text class="st" x="227.87" y="622.19">***</text>
<line x1="239.99" y1="627.29" x2="260.40" y2="606.89" stroke="#f5764a" stroke-width="1.15"/>
<text class="st" x="250.94" y="622.19">***</text>
<ellipse cx="204.05" cy="640.13" rx="10.96" ry="8.49" fill="#fcddd2" stroke="#fcddd2" stroke-width="0.6" transform="rotate(-45 204.05 640.13)"/>
<ellipse cx="227.12" cy="640.13" rx="7.27" ry="11.81" fill="#b6d2fa" stroke="#b6d2fa" stroke-width="0.6" transform="rotate(-45 227.12 640.13)"/>
<ellipse cx="250.19" cy="640.13" rx="11.60" ry="7.59" fill="#fbc8b7" stroke="#fbc8b7" stroke-width="0.6" transform="rotate(-45 250.19 640.13)"/>
<line x1="263.06" y1="650.33" x2="283.47" y2="629.93" stroke="#f5764a" stroke-width="1.15"/>
<text class="st" x="274.02" y="645.23">***</text>
<ellipse cx="180.98" cy="663.17" rx="9.04" ry="10.51" fill="#e7f0fd" stroke="#e7f0fd" stroke-width="0.6" transform="rotate(-45 180.98 663.17)"/>
<ellipse cx="204.05" cy="663.17" rx="13.51" ry="3.10" fill="#f6845c" stroke="#f6845c" stroke-width="0.6" transform="rotate(-45 204.05 663.17)"/>
<text class="st" x="204.80" y="668.27">*</text>
<ellipse cx="227.12" cy="663.17" rx="10.05" ry="9.56" fill="#fef8f6" stroke="#fef8f6" stroke-width="0.6" transform="rotate(-45 227.12 663.17)"/>
<ellipse cx="250.19" cy="663.17" rx="9.66" ry="9.95" fill="#fafcff" stroke="#fafcff" stroke-width="0.6" transform="rotate(-45 250.19 663.17)"/>
<ellipse cx="273.27" cy="663.17" rx="9.04" ry="10.51" fill="#e7f0fd" stroke="#e7f0fd" stroke-width="0.6" transform="rotate(-45 273.27 663.17)"/>
<line x1="286.13" y1="673.37" x2="306.54" y2="652.97" stroke="#f5764a" stroke-width="1.15"/>
<text class="st" x="297.08" y="668.27">***</text>
<ellipse cx="180.98" cy="686.21" rx="5.80" ry="12.59" fill="#95bef7" stroke="#95bef7" stroke-width="0.6" transform="rotate(-45 180.98 686.21)"/>
<text class="st" x="181.73" y="691.31">*</text>
<ellipse cx="204.05" cy="686.21" rx="13.23" ry="4.16" fill="#f78f6b" stroke="#f78f6b" stroke-width="0.6" transform="rotate(-45 204.05 686.21)"/>
<text class="st" x="204.80" y="691.31">***</text>
<ellipse cx="227.12" cy="686.21" rx="12.01" ry="6.93" fill="#fabaa4" stroke="#fabaa4" stroke-width="0.6" transform="rotate(-45 227.12 686.21)"/>
<text class="st" x="227.87" y="691.31">*</text>
<ellipse cx="250.19" cy="686.21" rx="7.59" ry="11.60" fill="#bed7fa" stroke="#bed7fa" stroke-width="0.6" transform="rotate(-45 250.19 686.21)"/>
<ellipse cx="273.27" cy="686.21" rx="10.05" ry="9.56" fill="#fef8f6" stroke="#fef8f6" stroke-width="0.6" transform="rotate(-45 273.27 686.21)"/>
<ellipse cx="296.33" cy="686.21" rx="13.08" ry="4.60" fill="#f79472" stroke="#f79472" stroke-width="0.6" transform="rotate(-45 296.33 686.21)"/>
<text class="st" x="297.08" y="691.31">***</text>
<line x1="309.20" y1="696.41" x2="329.61" y2="676.01" stroke="#f5764a" stroke-width="1.15"/>
<text class="st" x="320.16" y="691.31">***</text>
<ellipse cx="180.98" cy="709.25" rx="10.96" ry="8.49" fill="#fcddd2" stroke="#fcddd2" stroke-width="0.6" transform="rotate(-45 180.98 709.25)"/>
<ellipse cx="204.05" cy="709.25" rx="13.57" ry="2.86" fill="#f68259" stroke="#f68259" stroke-width="0.6" transform="rotate(-45 204.05 709.25)"/>
<text class="st" x="204.80" y="714.35">*</text>
<ellipse cx="250.19" cy="709.25" rx="11.60" ry="7.59" fill="#fbc8b7" stroke="#fbc8b7" stroke-width="0.6" transform="rotate(-45 250.19 709.25)"/>
<ellipse cx="273.27" cy="709.25" rx="10.00" ry="9.61" fill="#fffaf8" stroke="#fffaf8" stroke-width="0.6" transform="rotate(-45 273.27 709.25)"/>
<ellipse cx="296.33" cy="709.25" rx="13.15" ry="4.38" fill="#f7916e" stroke="#f7916e" stroke-width="0.6" transform="rotate(-45 296.33 709.25)"/>
<text class="st" x="297.08" y="714.35">***</text>
<ellipse cx="319.41" cy="709.25" rx="12.40" ry="6.20" fill="#f9ad92" stroke="#f9ad92" stroke-width="0.6" transform="rotate(-45 319.41 709.25)"/>
<text class="st" x="320.16" y="714.35">**</text>
<line x1="332.27" y1="719.45" x2="352.68" y2="699.05" stroke="#f5764a" stroke-width="1.15"/>
<text class="st" x="343.23" y="714.35">***</text>
<ellipse cx="180.98" cy="732.29" rx="9.66" ry="9.95" fill="#fafcff" stroke="#fafcff" stroke-width="0.6" transform="rotate(-45 180.98 732.29)"/>
<ellipse cx="204.05" cy="732.29" rx="13.23" ry="4.16" fill="#f78f6b" stroke="#f78f6b" stroke-width="0.6" transform="rotate(-45 204.05 732.29)"/>
<text class="st" x="204.80" y="737.39">***</text>
<ellipse cx="227.12" cy="732.29" rx="10.74" ry="8.77" fill="#fde4db" stroke="#fde4db" stroke-width="0.6" transform="rotate(-45 227.12 732.29)"/>
<ellipse cx="250.19" cy="732.29" rx="10.38" ry="9.20" fill="#feefe9" stroke="#feefe9" stroke-width="0.6" transform="rotate(-45 250.19 732.29)"/>
<ellipse cx="273.27" cy="732.29" rx="8.49" ry="10.96" fill="#d6e6fc" stroke="#d6e6fc" stroke-width="0.6" transform="rotate(-45 273.27 732.29)"/>
<ellipse cx="296.33" cy="732.29" rx="13.41" ry="3.54" fill="#f68862" stroke="#f68862" stroke-width="0.6" transform="rotate(-45 296.33 732.29)"/>
<text class="st" x="297.08" y="737.39">***</text>
<ellipse cx="319.41" cy="732.29" rx="12.59" ry="5.80" fill="#f8a689" stroke="#f8a689" stroke-width="0.6" transform="rotate(-45 319.41 732.29)"/>
<text class="st" x="320.16" y="737.39">**</text>
<ellipse cx="342.48" cy="732.29" rx="13.44" ry="3.40" fill="#f68660" stroke="#f68660" stroke-width="0.6" transform="rotate(-45 342.48 732.29)"/>
<text class="st" x="343.23" y="737.39">***</text>
<line x1="355.34" y1="742.49" x2="375.75" y2="722.09" stroke="#f5764a" stroke-width="1.15"/>
<text class="st" x="366.30" y="737.39">***</text>
<ellipse cx="180.98" cy="755.33" rx="13.44" ry="3.40" fill="#f68660" stroke="#f68660" stroke-width="0.6" transform="rotate(-45 180.98 755.33)"/>
<text class="st" x="181.73" y="760.43">**</text>
<ellipse cx="204.05" cy="755.33" rx="12.21" ry="6.58" fill="#fab49b" stroke="#fab49b" stroke-width="0.6" transform="rotate(-45 204.05 755.33)"/>
<text class="st" x="204.80" y="760.43">*</text>
<ellipse cx="227.12" cy="755.33" rx="5.63" ry="12.67" fill="#92bcf7" stroke="#92bcf7" stroke-width="0.6" transform="rotate(-45 227.12 755.33)"/>
<text class="st" x="227.87" y="760.43">**</text>
<ellipse cx="250.19" cy="755.33" rx="13.60" ry="2.69" fill="#f68058" stroke="#f68058" stroke-width="0.6" transform="rotate(-45 250.19 755.33)"/>
<text class="st" x="250.94" y="760.43">*</text>
<ellipse cx="273.27" cy="755.33" rx="10.96" ry="8.49" fill="#fcddd2" stroke="#fcddd2" stroke-width="0.6" transform="rotate(-45 273.27 755.33)"/>
<ellipse cx="296.33" cy="755.33" rx="11.18" ry="8.20" fill="#fcd6c9" stroke="#fcd6c9" stroke-width="0.6" transform="rotate(-45 296.33 755.33)"/>
<ellipse cx="319.41" cy="755.33" rx="9.30" ry="10.28" fill="#eff5fe" stroke="#eff5fe" stroke-width="0.6" transform="rotate(-45 319.41 755.33)"/>
<ellipse cx="342.48" cy="755.33" rx="12.32" ry="6.35" fill="#f9b096" stroke="#f9b096" stroke-width="0.6" transform="rotate(-45 342.48 755.33)"/>
<text class="st" x="343.23" y="760.43">**</text>
<ellipse cx="365.55" cy="755.33" rx="11.81" ry="7.27" fill="#fac1ae" stroke="#fac1ae" stroke-width="0.6" transform="rotate(-45 365.55 755.33)"/>
<line x1="378.41" y1="765.53" x2="398.82" y2="745.13" stroke="#f5764a" stroke-width="1.15"/>
<text class="st" x="389.37" y="760.43">***</text>
<ellipse cx="180.98" cy="778.37" rx="10.74" ry="8.77" fill="#fde4db" stroke="#fde4db" stroke-width="0.6" transform="rotate(-45 180.98 778.37)"/>
<ellipse cx="204.05" cy="778.37" rx="13.34" ry="3.80" fill="#f68b65" stroke="#f68b65" stroke-width="0.6" transform="rotate(-45 204.05 778.37)"/>
<text class="st" x="204.80" y="783.47">***</text>
<ellipse cx="227.12" cy="778.37" rx="6.58" ry="12.21" fill="#a5c8f8" stroke="#a5c8f8" stroke-width="0.6" transform="rotate(-45 227.12 778.37)"/>
<text class="st" x="227.87" y="783.47">*</text>
<ellipse cx="250.19" cy="778.37" rx="12.01" ry="6.93" fill="#fabaa4" stroke="#fabaa4" stroke-width="0.6" transform="rotate(-45 250.19 778.37)"/>
<text class="st" x="250.94" y="783.47">*</text>
<ellipse cx="273.27" cy="778.37" rx="11.39" ry="7.90" fill="#fccfc0" stroke="#fccfc0" stroke-width="0.6" transform="rotate(-45 273.27 778.37)"/>
<ellipse cx="296.33" cy="778.37" rx="13.08" ry="4.60" fill="#f79472" stroke="#f79472" stroke-width="0.6" transform="rotate(-45 296.33 778.37)"/>
<text class="st" x="297.08" y="783.47">***</text>
<ellipse cx="319.41" cy="778.37" rx="11.60" ry="7.59" fill="#fbc8b7" stroke="#fbc8b7" stroke-width="0.6" transform="rotate(-45 319.41 778.37)"/>
<ellipse cx="342.48" cy="778.37" rx="13.23" ry="4.16" fill="#f78f6b" stroke="#f78f6b" stroke-width="0.6" transform="rotate(-45 342.48 778.37)"/>
<text class="st" x="343.23" y="783.47">***</text>
<ellipse cx="365.55" cy="778.37" rx="12.71" ry="5.55" fill="#f8a284" stroke="#f8a284" stroke-width="0.6" transform="rotate(-45 365.55 778.37)"/>
<text class="st" x="366.30" y="783.47">**</text>
<ellipse cx="388.62" cy="778.37" rx="12.59" ry="5.80" fill="#f8a689" stroke="#f8a689" stroke-width="0.6" transform="rotate(-45 388.62 778.37)"/>
<text class="st" x="389.37" y="783.47">**</text>
<line x1="401.48" y1="788.57" x2="421.89" y2="768.17" stroke="#f5764a" stroke-width="1.15"/>
<text class="st" x="412.44" y="783.47">***</text>
<ellipse cx="180.98" cy="801.41" rx="12.01" ry="6.93" fill="#fabaa4" stroke="#fabaa4" stroke-width="0.6" transform="rotate(-45 180.98 801.41)"/>
<text class="st" x="181.73" y="806.51">*</text>
<ellipse cx="204.05" cy="801.41" rx="13.34" ry="3.80" fill="#f68b65" stroke="#f68b65" stroke-width="0.6" transform="rotate(-45 204.05 801.41)"/>
<text class="st" x="204.80" y="806.51">***</text>
<ellipse cx="227.12" cy="801.41" rx="8.20" ry="11.18" fill="#cee1fb" stroke="#cee1fb" stroke-width="0.6" transform="rotate(-45 227.12 801.41)"/>
<ellipse cx="250.19" cy="801.41" rx="12.40" ry="6.20" fill="#f9ad92" stroke="#f9ad92" stroke-width="0.6" transform="rotate(-45 250.19 801.41)"/>
<text class="st" x="250.94" y="806.51">**</text>
<ellipse cx="273.27" cy="801.41" rx="9.85" ry="9.76" fill="#fffefd" stroke="#fffefd" stroke-width="0.6" transform="rotate(-45 273.27 801.41)"/>
<ellipse cx="296.33" cy="801.41" rx="13.08" ry="4.60" fill="#f79472" stroke="#f79472" stroke-width="0.6" transform="rotate(-45 296.33 801.41)"/>
<text class="st" x="297.08" y="806.51">***</text>
<ellipse cx="319.41" cy="801.41" rx="11.39" ry="7.90" fill="#fccfc0" stroke="#fccfc0" stroke-width="0.6" transform="rotate(-45 319.41 801.41)"/>
<ellipse cx="342.48" cy="801.41" rx="13.41" ry="3.54" fill="#f68862" stroke="#f68862" stroke-width="0.6" transform="rotate(-45 342.48 801.41)"/>
<text class="st" x="343.23" y="806.51">***</text>
<ellipse cx="365.55" cy="801.41" rx="12.86" ry="5.19" fill="#f89c7d" stroke="#f89c7d" stroke-width="0.6" transform="rotate(-45 365.55 801.41)"/>
<text class="st" x="366.30" y="806.51">***</text>
<ellipse cx="388.62" cy="801.41" rx="13.15" ry="4.38" fill="#f7916e" stroke="#f7916e" stroke-width="0.6" transform="rotate(-45 388.62 801.41)"/>
<text class="st" x="389.37" y="806.51">***</text>
<ellipse cx="411.69" cy="801.41" rx="13.15" ry="4.38" fill="#f7916e" stroke="#f7916e" stroke-width="0.6" transform="rotate(-45 411.69 801.41)"/>
<text class="st" x="412.44" y="806.51">***</text>
<line x1="424.55" y1="811.61" x2="444.96" y2="791.21" stroke="#f5764a" stroke-width="1.15"/>
<text class="st" x="435.51" y="806.51">***</text>
<ellipse cx="180.98" cy="824.45" rx="11.39" ry="7.90" fill="#fccfc0" stroke="#fccfc0" stroke-width="0.6" transform="rotate(-45 180.98 824.45)"/>
<ellipse cx="204.05" cy="824.45" rx="13.34" ry="3.80" fill="#f68b65" stroke="#f68b65" stroke-width="0.6" transform="rotate(-45 204.05 824.45)"/>
<text class="st" x="204.80" y="829.55">***</text>
<ellipse cx="227.12" cy="824.45" rx="6.20" ry="12.40" fill="#9dc3f8" stroke="#9dc3f8" stroke-width="0.6" transform="rotate(-45 227.12 824.45)"/>
<text class="st" x="227.87" y="829.55">*</text>
<ellipse cx="250.19" cy="824.45" rx="12.29" ry="6.43" fill="#f9b198" stroke="#f9b198" stroke-width="0.6" transform="rotate(-45 250.19 824.45)"/>
<text class="st" x="250.94" y="829.55">*</text>
<ellipse cx="273.27" cy="824.45" rx="10.74" ry="8.77" fill="#fde4db" stroke="#fde4db" stroke-width="0.6" transform="rotate(-45 273.27 824.45)"/>
<ellipse cx="296.33" cy="824.45" rx="13.23" ry="4.16" fill="#f78f6b" stroke="#f78f6b" stroke-width="0.6" transform="rotate(-45 296.33 824.45)"/>
<text class="st" x="297.08" y="829.55">***</text>
<ellipse cx="319.41" cy="824.45" rx="11.60" ry="7.59" fill="#fbc8b7" stroke="#fbc8b7" stroke-width="0.6" transform="rotate(-45 319.41 824.45)"/>
<ellipse cx="342.48" cy="824.45" rx="13.34" ry="3.80" fill="#f68b65" stroke="#f68b65" stroke-width="0.6" transform="rotate(-45 342.48 824.45)"/>
<text class="st" x="343.23" y="829.55">***</text>
<ellipse cx="365.55" cy="824.45" rx="12.71" ry="5.55" fill="#f8a284" stroke="#f8a284" stroke-width="0.6" transform="rotate(-45 365.55 824.45)"/>
<text class="st" x="366.30" y="829.55">**</text>
<ellipse cx="388.62" cy="824.45" rx="13.15" ry="4.38" fill="#f7916e" stroke="#f7916e" stroke-width="0.6" transform="rotate(-45 388.62 824.45)"/>
<text class="st" x="389.37" y="829.55">***</text>
<ellipse cx="411.69" cy="824.45" rx="13.64" ry="2.50" fill="#f67f56" stroke="#f67f56" stroke-width="0.6" transform="rotate(-45 411.69 824.45)"/>
<text class="st" x="412.44" y="829.55">*</text>
<ellipse cx="434.76" cy="824.45" rx="13.41" ry="3.54" fill="#f68862" stroke="#f68862" stroke-width="0.6" transform="rotate(-45 434.76 824.45)"/>
<text class="st" x="435.51" y="829.55">*</text>
<line x1="447.62" y1="834.65" x2="468.03" y2="814.25" stroke="#f5764a" stroke-width="1.15"/>
<text class="st" x="458.58" y="829.55">***</text>
<ellipse cx="204.05" cy="847.49" rx="13.64" ry="2.50" fill="#f67f56" stroke="#f67f56" stroke-width="0.6" transform="rotate(-45 204.05 847.49)"/>
<text class="st" x="204.80" y="852.59">*</text>
<ellipse cx="227.12" cy="847.49" rx="10.74" ry="8.77" fill="#fde4db" stroke="#fde4db" stroke-width="0.6" transform="rotate(-45 227.12 847.49)"/>
<ellipse cx="250.19" cy="847.49" rx="10.96" ry="8.49" fill="#fcddd2" stroke="#fcddd2" stroke-width="0.6" transform="rotate(-45 250.19 847.49)"/>
<ellipse cx="273.27" cy="847.49" rx="10.51" ry="9.04" fill="#feeae4" stroke="#feeae4" stroke-width="0.6" transform="rotate(-45 273.27 847.49)"/>
<ellipse cx="296.33" cy="847.49" rx="13.15" ry="4.38" fill="#f7916e" stroke="#f7916e" stroke-width="0.6" transform="rotate(-45 296.33 847.49)"/>
<text class="st" x="297.08" y="852.59">***</text>
<ellipse cx="319.41" cy="847.49" rx="13.15" ry="4.38" fill="#f7916e" stroke="#f7916e" stroke-width="0.6" transform="rotate(-45 319.41 847.49)"/>
<text class="st" x="320.16" y="852.59">***</text>
<ellipse cx="342.48" cy="847.49" rx="13.64" ry="2.50" fill="#f67f56" stroke="#f67f56" stroke-width="0.6" transform="rotate(-45 342.48 847.49)"/>
<text class="st" x="343.23" y="852.59">*</text>
<ellipse cx="365.55" cy="847.49" rx="13.23" ry="4.16" fill="#f78f6b" stroke="#f78f6b" stroke-width="0.6" transform="rotate(-45 365.55 847.49)"/>
<text class="st" x="366.30" y="852.59">***</text>
<ellipse cx="388.62" cy="847.49" rx="11.81" ry="7.27" fill="#fac1ae" stroke="#fac1ae" stroke-width="0.6" transform="rotate(-45 388.62 847.49)"/>
<ellipse cx="411.69" cy="847.49" rx="12.71" ry="5.55" fill="#f8a284" stroke="#f8a284" stroke-width="0.6" transform="rotate(-45 411.69 847.49)"/>
<text class="st" x="412.44" y="852.59">**</text>
<ellipse cx="434.76" cy="847.49" rx="13.01" ry="4.80" fill="#f79775" stroke="#f79775" stroke-width="0.6" transform="rotate(-45 434.76 847.49)"/>
<text class="st" x="435.51" y="852.59">***</text>
<ellipse cx="457.83" cy="847.49" rx="12.59" ry="5.80" fill="#f8a689" stroke="#f8a689" stroke-width="0.6" transform="rotate(-45 457.83 847.49)"/>
<text class="st" x="458.58" y="852.59">**</text>
<line x1="470.69" y1="857.69" x2="491.10" y2="837.29" stroke="#f5764a" stroke-width="1.15"/>
<text class="st" x="481.65" y="852.59">***</text>
<ellipse cx="180.98" cy="870.53" rx="10.05" ry="9.56" fill="#fef8f6" stroke="#fef8f6" stroke-width="0.6" transform="rotate(-45 180.98 870.53)"/>
<ellipse cx="204.05" cy="870.53" rx="13.71" ry="2.08" fill="#f57c52" stroke="#f57c52" stroke-width="0.6" transform="rotate(-45 204.05 870.53)"/>
<text class="st" x="204.80" y="875.63">*</text>
<ellipse cx="227.12" cy="870.53" rx="10.09" ry="9.51" fill="#fef7f4" stroke="#fef7f4" stroke-width="0.6" transform="rotate(-45 227.12 870.53)"/>
<ellipse cx="250.19" cy="870.53" rx="10.96" ry="8.49" fill="#fcddd2" stroke="#fcddd2" stroke-width="0.6" transform="rotate(-45 250.19 870.53)"/>
<ellipse cx="273.27" cy="870.53" rx="10.28" ry="9.30" fill="#fef1ed" stroke="#fef1ed" stroke-width="0.6" transform="rotate(-45 273.27 870.53)"/>
<ellipse cx="296.33" cy="870.53" rx="13.34" ry="3.80" fill="#f68b65" stroke="#f68b65" stroke-width="0.6" transform="rotate(-45 296.33 870.53)"/>
<text class="st" x="297.08" y="875.63">***</text>
<ellipse cx="319.41" cy="870.53" rx="13.15" ry="4.38" fill="#f7916e" stroke="#f7916e" stroke-width="0.6" transform="rotate(-45 319.41 870.53)"/>
<text class="st" x="320.16" y="875.63">***</text>
<ellipse cx="342.48" cy="870.53" rx="13.64" ry="2.50" fill="#f67f56" stroke="#f67f56" stroke-width="0.6" transform="rotate(-45 342.48 870.53)"/>
<text class="st" x="343.23" y="875.63">*</text>
<ellipse cx="365.55" cy="870.53" rx="13.44" ry="3.40" fill="#f68660" stroke="#f68660" stroke-width="0.6" transform="rotate(-45 365.55 870.53)"/>
<text class="st" x="366.30" y="875.63">***</text>
<ellipse cx="388.62" cy="870.53" rx="11.81" ry="7.27" fill="#fac1ae" stroke="#fac1ae" stroke-width="0.6" transform="rotate(-45 388.62 870.53)"/>
<text class="st" x="389.37" y="875.63">*</text>
<ellipse cx="411.69" cy="870.53" rx="12.97" ry="4.90" fill="#f89877" stroke="#f89877" stroke-width="0.6" transform="rotate(-45 411.69 870.53)"/>
<text class="st" x="412.44" y="875.63">***</text>
<ellipse cx="434.76" cy="870.53" rx="13.23" ry="4.16" fill="#f78f6b" stroke="#f78f6b" stroke-width="0.6" transform="rotate(-45 434.76 870.53)"/>
<text class="st" x="435.51" y="875.63">***</text>
<ellipse cx="457.83" cy="870.53" rx="13.04" ry="4.70" fill="#f79674" stroke="#f79674" stroke-width="0.6" transform="rotate(-45 457.83 870.53)"/>
<text class="st" x="458.58" y="875.63">**</text>
<ellipse cx="480.90" cy="870.53" rx="13.66" ry="2.40" fill="#f67e55" stroke="#f67e55" stroke-width="0.6" transform="rotate(-45 480.90 870.53)"/>
<text class="st" x="481.65" y="875.63">*</text>
<line x1="493.76" y1="880.73" x2="514.17" y2="860.33" stroke="#f5764a" stroke-width="1.15"/>
<text class="st" x="504.72" y="875.63">***</text>
<ellipse cx="180.98" cy="893.57" rx="7.90" ry="11.39" fill="#c6dcfb" stroke="#c6dcfb" stroke-width="0.6" transform="rotate(-45 180.98 893.57)"/>
<ellipse cx="204.05" cy="893.57" rx="11.18" ry="8.20" fill="#fcd6c9" stroke="#fcd6c9" stroke-width="0.6" transform="rotate(-45 204.05 893.57)"/>
<ellipse cx="227.12" cy="893.57" rx="12.59" ry="5.80" fill="#f8a689" stroke="#f8a689" stroke-width="0.6" transform="rotate(-45 227.12 893.57)"/>
<text class="st" x="227.87" y="898.67">**</text>
<ellipse cx="250.19" cy="893.57" rx="9.30" ry="10.28" fill="#eff5fe" stroke="#eff5fe" stroke-width="0.6" transform="rotate(-45 250.19 893.57)"/>
<ellipse cx="273.27" cy="893.57" rx="10.51" ry="9.04" fill="#feeae4" stroke="#feeae4" stroke-width="0.6" transform="rotate(-45 273.27 893.57)"/>
<ellipse cx="296.33" cy="893.57" rx="10.05" ry="9.56" fill="#fef8f6" stroke="#fef8f6" stroke-width="0.6" transform="rotate(-45 296.33 893.57)"/>
<ellipse cx="319.41" cy="893.57" rx="12.01" ry="6.93" fill="#fabaa4" stroke="#fabaa4" stroke-width="0.6" transform="rotate(-45 319.41 893.57)"/>
<text class="st" x="320.16" y="898.67">*</text>
<ellipse cx="342.48" cy="893.57" rx="11.60" ry="7.59" fill="#fbc8b7" stroke="#fbc8b7" stroke-width="0.6" transform="rotate(-45 342.48 893.57)"/>
<ellipse cx="365.55" cy="893.57" rx="11.60" ry="7.59" fill="#fbc8b7" stroke="#fbc8b7" stroke-width="0.6" transform="rotate(-45 365.55 893.57)"/>
<ellipse cx="388.62" cy="893.57" rx="9.20" ry="10.38" fill="#ebf3fe" stroke="#ebf3fe" stroke-width="0.6" transform="rotate(-45 388.62 893.57)"/>
<ellipse cx="411.69" cy="893.57" rx="9.71" ry="9.90" fill="#fcfdff" stroke="#fcfdff" stroke-width="0.6" transform="rotate(-45 411.69 893.57)"/>
<ellipse cx="434.76" cy="893.57" rx="9.66" ry="9.95" fill="#fafcff" stroke="#fafcff" stroke-width="0.6" transform="rotate(-45 434.76 893.57)"/>
<ellipse cx="457.83" cy="893.57" rx="9.30" ry="10.28" fill="#eff5fe" stroke="#eff5fe" stroke-width="0.6" transform="rotate(-45 457.83 893.57)"/>
<ellipse cx="480.90" cy="893.57" rx="12.01" ry="6.93" fill="#fabaa4" stroke="#fabaa4" stroke-width="0.6" transform="rotate(-45 480.90 893.57)"/>
<text class="st" x="481.65" y="898.67">*</text>
<ellipse cx="503.97" cy="893.57" rx="11.43" ry="7.84" fill="#fbcebe" stroke="#fbcebe" stroke-width="0.6" transform="rotate(-45 503.97 893.57)"/>
<line x1="516.83" y1="903.77" x2="537.24" y2="883.37" stroke="#f5764a" stroke-width="1.15"/>
<text class="st" x="527.78" y="898.67">***</text>
<rect x="169.45" y="536.45" width="23.07" height="23.04" fill="none" stroke="#b8bbbe" stroke-width="0.7"/>
<rect x="169.45" y="559.49" width="23.07" height="23.04" fill="none" stroke="#b8bbbe" stroke-width="0.7"/>
<rect x="192.52" y="559.49" width="23.07" height="23.04" fill="none" stroke="#b8bbbe" stroke-width="0.7"/>
<rect x="169.45" y="582.53" width="23.07" height="23.04" fill="none" stroke="#b8bbbe" stroke-width="0.7"/>
<rect x="192.52" y="582.53" width="23.07" height="23.04" fill="none" stroke="#b8bbbe" stroke-width="0.7"/>
<rect x="215.59" y="582.53" width="23.07" height="23.04" fill="none" stroke="#b8bbbe" stroke-width="0.7"/>
<rect x="169.45" y="605.57" width="23.07" height="23.04" fill="none" stroke="#b8bbbe" stroke-width="0.7"/>
<rect x="192.52" y="605.57" width="23.07" height="23.04" fill="none" stroke="#b8bbbe" stroke-width="0.7"/>
<rect x="215.59" y="605.57" width="23.07" height="23.04" fill="none" stroke="#b8bbbe" stroke-width="0.7"/>
<rect x="238.66" y="605.57" width="23.07" height="23.04" fill="none" stroke="#b8bbbe" stroke-width="0.7"/>
<rect x="169.45" y="628.61" width="23.07" height="23.04" fill="none" stroke="#b8bbbe" stroke-width="0.7"/>
<rect x="192.52" y="628.61" width="23.07" height="23.04" fill="none" stroke="#b8bbbe" stroke-width="0.7"/>
<rect x="215.59" y="628.61" width="23.07" height="23.04" fill="none" stroke="#b8bbbe" stroke-width="0.7"/>
<rect x="238.66" y="628.61" width="23.07" height="23.04" fill="none" stroke="#b8bbbe" stroke-width="0.7"/>
<rect x="261.73" y="628.61" width="23.07" height="23.04" fill="none" stroke="#b8bbbe" stroke-width="0.7"/>
<rect x="169.45" y="651.65" width="23.07" height="23.04" fill="none" stroke="#b8bbbe" stroke-width="0.7"/>
<rect x="192.52" y="651.65" width="23.07" height="23.04" fill="none" stroke="#b8bbbe" stroke-width="0.7"/>
<rect x="215.59" y="651.65" width="23.07" height="23.04" fill="none" stroke="#b8bbbe" stroke-width="0.7"/>
<rect x="238.66" y="651.65" width="23.07" height="23.04" fill="none" stroke="#b8bbbe" stroke-width="0.7"/>
<rect x="261.73" y="651.65" width="23.07" height="23.04" fill="none" stroke="#b8bbbe" stroke-width="0.7"/>
<rect x="284.80" y="651.65" width="23.07" height="23.04" fill="none" stroke="#b8bbbe" stroke-width="0.7"/>
<rect x="169.45" y="674.69" width="23.07" height="23.04" fill="none" stroke="#b8bbbe" stroke-width="0.7"/>
<rect x="192.52" y="674.69" width="23.07" height="23.04" fill="none" stroke="#b8bbbe" stroke-width="0.7"/>
<rect x="215.59" y="674.69" width="23.07" height="23.04" fill="none" stroke="#b8bbbe" stroke-width="0.7"/>
<rect x="238.66" y="674.69" width="23.07" height="23.04" fill="none" stroke="#b8bbbe" stroke-width="0.7"/>
<rect x="261.73" y="674.69" width="23.07" height="23.04" fill="none" stroke="#b8bbbe" stroke-width="0.7"/>
<rect x="284.80" y="674.69" width="23.07" height="23.04" fill="none" stroke="#b8bbbe" stroke-width="0.7"/>
<rect x="307.87" y="674.69" width="23.07" height="23.04" fill="none" stroke="#b8bbbe" stroke-width="0.7"/>
<rect x="169.45" y="697.73" width="23.07" height="23.04" fill="none" stroke="#b8bbbe" stroke-width="0.7"/>
<rect x="192.52" y="697.73" width="23.07" height="23.04" fill="none" stroke="#b8bbbe" stroke-width="0.7"/>
<rect x="215.59" y="697.73" width="23.07" height="23.04" fill="none" stroke="#b8bbbe" stroke-width="0.7"/>
<rect x="238.66" y="697.73" width="23.07" height="23.04" fill="none" stroke="#b8bbbe" stroke-width="0.7"/>
<rect x="261.73" y="697.73" width="23.07" height="23.04" fill="none" stroke="#b8bbbe" stroke-width="0.7"/>
<rect x="284.80" y="697.73" width="23.07" height="23.04" fill="none" stroke="#b8bbbe" stroke-width="0.7"/>
<rect x="307.87" y="697.73" width="23.07" height="23.04" fill="none" stroke="#b8bbbe" stroke-width="0.7"/>
<rect x="330.94" y="697.73" width="23.07" height="23.04" fill="none" stroke="#b8bbbe" stroke-width="0.7"/>
<rect x="169.45" y="720.77" width="23.07" height="23.04" fill="none" stroke="#b8bbbe" stroke-width="0.7"/>
<rect x="192.52" y="720.77" width="23.07" height="23.04" fill="none" stroke="#b8bbbe" stroke-width="0.7"/>
<rect x="215.59" y="720.77" width="23.07" height="23.04" fill="none" stroke="#b8bbbe" stroke-width="0.7"/>
<rect x="238.66" y="720.77" width="23.07" height="23.04" fill="none" stroke="#b8bbbe" stroke-width="0.7"/>
<rect x="261.73" y="720.77" width="23.07" height="23.04" fill="none" stroke="#b8bbbe" stroke-width="0.7"/>
<rect x="284.80" y="720.77" width="23.07" height="23.04" fill="none" stroke="#b8bbbe" stroke-width="0.7"/>
<rect x="307.87" y="720.77" width="23.07" height="23.04" fill="none" stroke="#b8bbbe" stroke-width="0.7"/>
<rect x="330.94" y="720.77" width="23.07" height="23.04" fill="none" stroke="#b8bbbe" stroke-width="0.7"/>
<rect x="354.01" y="720.77" width="23.07" height="23.04" fill="none" stroke="#b8bbbe" stroke-width="0.7"/>
<rect x="169.45" y="743.81" width="23.07" height="23.04" fill="none" stroke="#b8bbbe" stroke-width="0.7"/>
<rect x="192.52" y="743.81" width="23.07" height="23.04" fill="none" stroke="#b8bbbe" stroke-width="0.7"/>
<rect x="215.59" y="743.81" width="23.07" height="23.04" fill="none" stroke="#b8bbbe" stroke-width="0.7"/>
<rect x="238.66" y="743.81" width="23.07" height="23.04" fill="none" stroke="#b8bbbe" stroke-width="0.7"/>
<rect x="261.73" y="743.81" width="23.07" height="23.04" fill="none" stroke="#b8bbbe" stroke-width="0.7"/>
<rect x="284.80" y="743.81" width="23.07" height="23.04" fill="none" stroke="#b8bbbe" stroke-width="0.7"/>
<rect x="307.87" y="743.81" width="23.07" height="23.04" fill="none" stroke="#b8bbbe" stroke-width="0.7"/>
<rect x="330.94" y="743.81" width="23.07" height="23.04" fill="none" stroke="#b8bbbe" stroke-width="0.7"/>
<rect x="354.01" y="743.81" width="23.07" height="23.04" fill="none" stroke="#b8bbbe" stroke-width="0.7"/>
<rect x="377.08" y="743.81" width="23.07" height="23.04" fill="none" stroke="#b8bbbe" stroke-width="0.7"/>
<rect x="169.45" y="766.85" width="23.07" height="23.04" fill="none" stroke="#b8bbbe" stroke-width="0.7"/>
<rect x="192.52" y="766.85" width="23.07" height="23.04" fill="none" stroke="#b8bbbe" stroke-width="0.7"/>
<rect x="215.59" y="766.85" width="23.07" height="23.04" fill="none" stroke="#b8bbbe" stroke-width="0.7"/>
<rect x="238.66" y="766.85" width="23.07" height="23.04" fill="none" stroke="#b8bbbe" stroke-width="0.7"/>
<rect x="261.73" y="766.85" width="23.07" height="23.04" fill="none" stroke="#b8bbbe" stroke-width="0.7"/>
<rect x="284.80" y="766.85" width="23.07" height="23.04" fill="none" stroke="#b8bbbe" stroke-width="0.7"/>
<rect x="307.87" y="766.85" width="23.07" height="23.04" fill="none" stroke="#b8bbbe" stroke-width="0.7"/>
<rect x="330.94" y="766.85" width="23.07" height="23.04" fill="none" stroke="#b8bbbe" stroke-width="0.7"/>
<rect x="354.01" y="766.85" width="23.07" height="23.04" fill="none" stroke="#b8bbbe" stroke-width="0.7"/>
<rect x="377.08" y="766.85" width="23.07" height="23.04" fill="none" stroke="#b8bbbe" stroke-width="0.7"/>
<rect x="400.15" y="766.85" width="23.07" height="23.04" fill="none" stroke="#b8bbbe" stroke-width="0.7"/>
<rect x="169.45" y="789.89" width="23.07" height="23.04" fill="none" stroke="#b8bbbe" stroke-width="0.7"/>
<rect x="192.52" y="789.89" width="23.07" height="23.04" fill="none" stroke="#b8bbbe" stroke-width="0.7"/>
<rect x="215.59" y="789.89" width="23.07" height="23.04" fill="none" stroke="#b8bbbe" stroke-width="0.7"/>
<rect x="238.66" y="789.89" width="23.07" height="23.04" fill="none" stroke="#b8bbbe" stroke-width="0.7"/>
<rect x="261.73" y="789.89" width="23.07" height="23.04" fill="none" stroke="#b8bbbe" stroke-width="0.7"/>
<rect x="284.80" y="789.89" width="23.07" height="23.04" fill="none" stroke="#b8bbbe" stroke-width="0.7"/>
<rect x="307.87" y="789.89" width="23.07" height="23.04" fill="none" stroke="#b8bbbe" stroke-width="0.7"/>
<rect x="330.94" y="789.89" width="23.07" height="23.04" fill="none" stroke="#b8bbbe" stroke-width="0.7"/>
<rect x="354.01" y="789.89" width="23.07" height="23.04" fill="none" stroke="#b8bbbe" stroke-width="0.7"/>
<rect x="377.08" y="789.89" width="23.07" height="23.04" fill="none" stroke="#b8bbbe" stroke-width="0.7"/>
<rect x="400.15" y="789.89" width="23.07" height="23.04" fill="none" stroke="#b8bbbe" stroke-width="0.7"/>
<rect x="423.22" y="789.89" width="23.07" height="23.04" fill="none" stroke="#b8bbbe" stroke-width="0.7"/>
<rect x="169.45" y="812.93" width="23.07" height="23.04" fill="none" stroke="#b8bbbe" stroke-width="0.7"/>
<rect x="192.52" y="812.93" width="23.07" height="23.04" fill="none" stroke="#b8bbbe" stroke-width="0.7"/>
<rect x="215.59" y="812.93" width="23.07" height="23.04" fill="none" stroke="#b8bbbe" stroke-width="0.7"/>
<rect x="238.66" y="812.93" width="23.07" height="23.04" fill="none" stroke="#b8bbbe" stroke-width="0.7"/>
<rect x="261.73" y="812.93" width="23.07" height="23.04" fill="none" stroke="#b8bbbe" stroke-width="0.7"/>
<rect x="284.80" y="812.93" width="23.07" height="23.04" fill="none" stroke="#b8bbbe" stroke-width="0.7"/>
<rect x="307.87" y="812.93" width="23.07" height="23.04" fill="none" stroke="#b8bbbe" stroke-width="0.7"/>
<rect x="330.94" y="812.93" width="23.07" height="23.04" fill="none" stroke="#b8bbbe" stroke-width="0.7"/>
<rect x="354.01" y="812.93" width="23.07" height="23.04" fill="none" stroke="#b8bbbe" stroke-width="0.7"/>
<rect x="377.08" y="812.93" width="23.07" height="23.04" fill="none" stroke="#b8bbbe" stroke-width="0.7"/>
<rect x="400.15" y="812.93" width="23.07" height="23.04" fill="none" stroke="#b8bbbe" stroke-width="0.7"/>
<rect x="423.22" y="812.93" width="23.07" height="23.04" fill="none" stroke="#b8bbbe" stroke-width="0.7"/>
<rect x="446.29" y="812.93" width="23.07" height="23.04" fill="none" stroke="#b8bbbe" stroke-width="0.7"/>
<rect x="169.45" y="835.97" width="23.07" height="23.04" fill="none" stroke="#b8bbbe" stroke-width="0.7"/>
<rect x="192.52" y="835.97" width="23.07" height="23.04" fill="none" stroke="#b8bbbe" stroke-width="0.7"/>
<rect x="215.59" y="835.97" width="23.07" height="23.04" fill="none" stroke="#b8bbbe" stroke-width="0.7"/>
<rect x="238.66" y="835.97" width="23.07" height="23.04" fill="none" stroke="#b8bbbe" stroke-width="0.7"/>
<rect x="261.73" y="835.97" width="23.07" height="23.04" fill="none" stroke="#b8bbbe" stroke-width="0.7"/>
<rect x="284.80" y="835.97" width="23.07" height="23.04" fill="none" stroke="#b8bbbe" stroke-width="0.7"/>
<rect x="307.87" y="835.97" width="23.07" height="23.04" fill="none" stroke="#b8bbbe" stroke-width="0.7"/>
<rect x="330.94" y="835.97" width="23.07" height="23.04" fill="none" stroke="#b8bbbe" stroke-width="0.7"/>
<rect x="354.01" y="835.97" width="23.07" height="23.04" fill="none" stroke="#b8bbbe" stroke-width="0.7"/>
<rect x="377.08" y="835.97" width="23.07" height="23.04" fill="none" stroke="#b8bbbe" stroke-width="0.7"/>
<rect x="400.15" y="835.97" width="23.07" height="23.04" fill="none" stroke="#b8bbbe" stroke-width="0.7"/>
<rect x="423.22" y="835.97" width="23.07" height="23.04" fill="none" stroke="#b8bbbe" stroke-width="0.7"/>
<rect x="446.29" y="835.97" width="23.07" height="23.04" fill="none" stroke="#b8bbbe" stroke-width="0.7"/>
<rect x="469.36" y="835.97" width="23.07" height="23.04" fill="none" stroke="#b8bbbe" stroke-width="0.7"/>
<rect x="169.45" y="859.01" width="23.07" height="23.04" fill="none" stroke="#b8bbbe" stroke-width="0.7"/>
<rect x="192.52" y="859.01" width="23.07" height="23.04" fill="none" stroke="#b8bbbe" stroke-width="0.7"/>
<rect x="215.59" y="859.01" width="23.07" height="23.04" fill="none" stroke="#b8bbbe" stroke-width="0.7"/>
<rect x="238.66" y="859.01" width="23.07" height="23.04" fill="none" stroke="#b8bbbe" stroke-width="0.7"/>
<rect x="261.73" y="859.01" width="23.07" height="23.04" fill="none" stroke="#b8bbbe" stroke-width="0.7"/>
<rect x="284.80" y="859.01" width="23.07" height="23.04" fill="none" stroke="#b8bbbe" stroke-width="0.7"/>
<rect x="307.87" y="859.01" width="23.07" height="23.04" fill="none" stroke="#b8bbbe" stroke-width="0.7"/>
<rect x="330.94" y="859.01" width="23.07" height="23.04" fill="none" stroke="#b8bbbe" stroke-width="0.7"/>
<rect x="354.01" y="859.01" width="23.07" height="23.04" fill="none" stroke="#b8bbbe" stroke-width="0.7"/>
<rect x="377.08" y="859.01" width="23.07" height="23.04" fill="none" stroke="#b8bbbe" stroke-width="0.7"/>
<rect x="400.15" y="859.01" width="23.07" height="23.04" fill="none" stroke="#b8bbbe" stroke-width="0.7"/>
<rect x="423.22" y="859.01" width="23.07" height="23.04" fill="none" stroke="#b8bbbe" stroke-width="0.7"/>
<rect x="446.29" y="859.01" width="23.07" height="23.04" fill="none" stroke="#b8bbbe" stroke-width="0.7"/>
<rect x="469.36" y="859.01" width="23.07" height="23.04" fill="none" stroke="#b8bbbe" stroke-width="0.7"/>
<rect x="492.43" y="859.01" width="23.07" height="23.04" fill="none" stroke="#b8bbbe" stroke-width="0.7"/>
<rect x="169.45" y="882.05" width="23.07" height="23.04" fill="none" stroke="#b8bbbe" stroke-width="0.7"/>
<rect x="192.52" y="882.05" width="23.07" height="23.04" fill="none" stroke="#b8bbbe" stroke-width="0.7"/>
<rect x="215.59" y="882.05" width="23.07" height="23.04" fill="none" stroke="#b8bbbe" stroke-width="0.7"/>
<rect x="238.66" y="882.05" width="23.07" height="23.04" fill="none" stroke="#b8bbbe" stroke-width="0.7"/>
<rect x="261.73" y="882.05" width="23.07" height="23.04" fill="none" stroke="#b8bbbe" stroke-width="0.7"/>
<rect x="284.80" y="882.05" width="23.07" height="23.04" fill="none" stroke="#b8bbbe" stroke-width="0.7"/>
<rect x="307.87" y="882.05" width="23.07" height="23.04" fill="none" stroke="#b8bbbe" stroke-width="0.7"/>
<rect x="330.94" y="882.05" width="23.07" height="23.04" fill="none" stroke="#b8bbbe" stroke-width="0.7"/>
<rect x="354.01" y="882.05" width="23.07" height="23.04" fill="none" stroke="#b8bbbe" stroke-width="0.7"/>
<rect x="377.08" y="882.05" width="23.07" height="23.04" fill="none" stroke="#b8bbbe" stroke-width="0.7"/>
<rect x="400.15" y="882.05" width="23.07" height="23.04" fill="none" stroke="#b8bbbe" stroke-width="0.7"/>
<rect x="423.22" y="882.05" width="23.07" height="23.04" fill="none" stroke="#b8bbbe" stroke-width="0.7"/>
<rect x="446.29" y="882.05" width="23.07" height="23.04" fill="none" stroke="#b8bbbe" stroke-width="0.7"/>
<rect x="469.36" y="882.05" width="23.07" height="23.04" fill="none" stroke="#b8bbbe" stroke-width="0.7"/>
<rect x="492.43" y="882.05" width="23.07" height="23.04" fill="none" stroke="#b8bbbe" stroke-width="0.7"/>
<rect x="515.50" y="882.05" width="23.07" height="23.04" fill="none" stroke="#b8bbbe" stroke-width="0.7"/>
<text class="lb" text-anchor="end" transform="translate(162.20 551.97) scale(0.98 1)">GES</text>
<text class="lb" transform="translate(186.28 530.95) rotate(-90) scale(0.98 1)">GES</text>
<text class="lb" text-anchor="end" transform="translate(162.20 575.01) scale(0.98 1)">G8H</text>
<text class="lb" transform="translate(209.35 553.99) rotate(-90) scale(0.98 1)">G8H</text>
<text class="lb" text-anchor="end" transform="translate(162.20 598.05) scale(0.98 1)">8−HGO</text>
<text class="lb" transform="translate(232.42 577.03) rotate(-90) scale(0.98 1)">8−HGO</text>
<text class="lb" text-anchor="end" transform="translate(162.20 621.09) scale(0.98 1)">ISY</text>
<text class="lb" transform="translate(255.50 600.07) rotate(-90) scale(0.98 1)">ISY</text>
<text class="lb" text-anchor="end" transform="translate(162.20 644.13) scale(0.98 1)">7−DLS</text>
<text class="lb" transform="translate(278.57 623.11) rotate(-90) scale(0.98 1)">7−DLS</text>
<text class="lb" text-anchor="end" transform="translate(162.20 667.17) scale(0.98 1)">SLS</text>
<text class="lb" transform="translate(301.63 646.15) rotate(-90) scale(0.98 1)">SLS</text>
<text class="lb" text-anchor="end" transform="translate(162.20 690.21) scale(0.98 1)">LAMT</text>
<text class="lb" transform="translate(324.71 669.19) rotate(-90) scale(0.98 1)">LAMT</text>
<text class="lb" text-anchor="end" transform="translate(162.20 713.25) scale(0.98 1)">AnPRT</text>
<text class="lb" transform="translate(347.78 692.23) rotate(-90) scale(0.98 1)">AnPRT</text>
<text class="lb" text-anchor="end" transform="translate(162.20 736.29) scale(0.98 1)">AS</text>
<text class="lb" transform="translate(370.85 715.27) rotate(-90) scale(0.98 1)">AS</text>
<text class="lb" text-anchor="end" transform="translate(162.20 759.33) scale(0.98 1)">PRAI</text>
<text class="lb" transform="translate(393.92 738.31) rotate(-90) scale(0.98 1)">PRAI</text>
<text class="lb" text-anchor="end" transform="translate(162.20 782.37) scale(0.98 1)">IGPS</text>
<text class="lb" transform="translate(416.99 761.35) rotate(-90) scale(0.98 1)">IGPS</text>
<text class="lb" text-anchor="end" transform="translate(162.20 805.41) scale(0.98 1)">TSA</text>
<text class="lb" transform="translate(440.06 784.39) rotate(-90) scale(0.98 1)">TSA</text>
<text class="lb" text-anchor="end" transform="translate(162.20 828.45) scale(0.98 1)">TSB</text>
<text class="lb" transform="translate(463.13 807.43) rotate(-90) scale(0.98 1)">TSB</text>
<text class="lb" text-anchor="end" transform="translate(162.20 851.49) scale(0.98 1)">STR</text>
<text class="lb" transform="translate(486.20 830.47) rotate(-90) scale(0.98 1)">STR</text>
<text class="lb" text-anchor="end" transform="translate(162.20 874.53) scale(0.98 1)">SGD</text>
<text class="lb" transform="translate(509.27 853.51) rotate(-90) scale(0.98 1)">SGD</text>
<text class="lb" text-anchor="end" transform="translate(162.20 897.57) scale(0.98 1)">ABA−gelsenicine</text>
<text class="lb" transform="translate(530.53 876.55) rotate(-90) scale(0.98 1)">ABA−gelsenicine</text>
<defs><linearGradient id="g536" x1="0" x2="1" y1="0" y2="0"><stop offset="0" stop-color="#5c9bf3"/><stop offset="0.5" stop-color="#ffffff"/><stop offset="1" stop-color="#f5764a"/></linearGradient></defs>
<rect x="169.45" y="912.20" width="369.12" height="13.50" fill="url(#g536)" stroke="#1a1a1a" stroke-width="1.1"/>
<line x1="169.45" y1="925.70" x2="169.45" y2="928.90" stroke="#1a1a1a" stroke-width="1"/>
<text class="tk" text-anchor="middle" x="169.45" y="945.50">−1</text>
<line x1="206.36" y1="925.70" x2="206.36" y2="928.90" stroke="#1a1a1a" stroke-width="1"/>
<text class="tk" text-anchor="middle" x="206.36" y="945.50">−0.8</text>
<line x1="243.27" y1="925.70" x2="243.27" y2="928.90" stroke="#1a1a1a" stroke-width="1"/>
<text class="tk" text-anchor="middle" x="243.27" y="945.50">−0.6</text>
<line x1="280.19" y1="925.70" x2="280.19" y2="928.90" stroke="#1a1a1a" stroke-width="1"/>
<text class="tk" text-anchor="middle" x="280.19" y="945.50">−0.4</text>
<line x1="317.10" y1="925.70" x2="317.10" y2="928.90" stroke="#1a1a1a" stroke-width="1"/>
<text class="tk" text-anchor="middle" x="317.10" y="945.50">−0.2</text>
<line x1="354.01" y1="925.70" x2="354.01" y2="928.90" stroke="#1a1a1a" stroke-width="1"/>
<text class="tk" text-anchor="middle" x="354.01" y="945.50">0</text>
<line x1="390.92" y1="925.70" x2="390.92" y2="928.90" stroke="#1a1a1a" stroke-width="1"/>
<text class="tk" text-anchor="middle" x="390.92" y="945.50">0.2</text>
<line x1="427.83" y1="925.70" x2="427.83" y2="928.90" stroke="#1a1a1a" stroke-width="1"/>
<text class="tk" text-anchor="middle" x="427.83" y="945.50">0.4</text>
<line x1="464.75" y1="925.70" x2="464.75" y2="928.90" stroke="#1a1a1a" stroke-width="1"/>
<text class="tk" text-anchor="middle" x="464.75" y="945.50">0.6</text>
<line x1="501.66" y1="925.70" x2="501.66" y2="928.90" stroke="#1a1a1a" stroke-width="1"/>
<text class="tk" text-anchor="middle" x="501.66" y="945.50">0.8</text>
<line x1="538.57" y1="925.70" x2="538.57" y2="928.90" stroke="#1a1a1a" stroke-width="1"/>
<text class="tk" text-anchor="middle" x="538.57" y="945.50">1</text>
</svg>
</body></html>
